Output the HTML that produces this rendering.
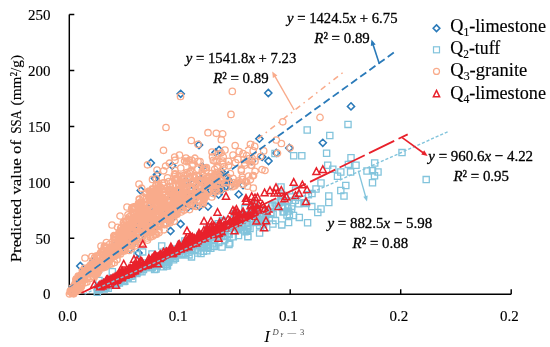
<!DOCTYPE html>
<html><head><meta charset="utf-8"><title>SSA prediction</title>
<style>
html,body{margin:0;padding:0;background:#fff;}
svg{display:block;font-family:'Liberation Serif', 'DejaVu Serif', serif;fill:#000;}
svg text{stroke:#000;stroke-width:0.15px;}
svg text.sup{stroke:none;}
svg text.eq{stroke-width:0.3px;}
</style></head><body>
<svg width="550" height="347" viewBox="0 0 550 347">
<rect width="550" height="347" fill="#fff"/>
<g id="axes"><path d="M69.3 14.5V294.2H511.2" fill="none" stroke="#000" stroke-width="1.45"/><path d="M69.3 294.2h5M69.3 238.3h5M69.3 182.3h5M69.3 126.4h5M69.3 70.4h5M69.3 14.5h5M69.3 294.2v-5M179.8 294.2v-5M290.2 294.2v-5M400.7 294.2v-5M511.2 294.2v-5" fill="none" stroke="#000" stroke-width="1.45"/></g>
<g id="points">
<path d="M117.9 238.6l3.6 3.6l-3.6 3.6l-3.6 -3.6zM221.6 167.8l3.6 3.6l-3.6 3.6l-3.6 -3.6zM117.2 243.1l3.6 3.6l-3.6 3.6l-3.6 -3.6zM201.6 175.9l3.6 3.6l-3.6 3.6l-3.6 -3.6zM134.1 227.4l3.6 3.6l-3.6 3.6l-3.6 -3.6zM165.2 200.9l3.6 3.6l-3.6 3.6l-3.6 -3.6zM134.7 237.7l3.6 3.6l-3.6 3.6l-3.6 -3.6zM138.4 210.1l3.6 3.6l-3.6 3.6l-3.6 -3.6zM219.4 170.4l3.6 3.6l-3.6 3.6l-3.6 -3.6zM214.6 188.1l3.6 3.6l-3.6 3.6l-3.6 -3.6zM113.8 243.3l3.6 3.6l-3.6 3.6l-3.6 -3.6zM185.9 177.2l3.6 3.6l-3.6 3.6l-3.6 -3.6zM107.4 248.2l3.6 3.6l-3.6 3.6l-3.6 -3.6zM133.1 239.7l3.6 3.6l-3.6 3.6l-3.6 -3.6zM93.3 257.5l3.6 3.6l-3.6 3.6l-3.6 -3.6zM175.6 206.7l3.6 3.6l-3.6 3.6l-3.6 -3.6zM186.2 199.9l3.6 3.6l-3.6 3.6l-3.6 -3.6zM189.0 195.6l3.6 3.6l-3.6 3.6l-3.6 -3.6zM193.0 195.7l3.6 3.6l-3.6 3.6l-3.6 -3.6zM145.2 216.3l3.6 3.6l-3.6 3.6l-3.6 -3.6zM114.2 248.8l3.6 3.6l-3.6 3.6l-3.6 -3.6zM72.0 285.8l3.6 3.6l-3.6 3.6l-3.6 -3.6zM150.4 211.8l3.6 3.6l-3.6 3.6l-3.6 -3.6zM219.6 169.5l3.6 3.6l-3.6 3.6l-3.6 -3.6zM151.4 222.2l3.6 3.6l-3.6 3.6l-3.6 -3.6zM171.4 215.2l3.6 3.6l-3.6 3.6l-3.6 -3.6zM216.3 178.9l3.6 3.6l-3.6 3.6l-3.6 -3.6zM206.6 182.7l3.6 3.6l-3.6 3.6l-3.6 -3.6zM188.1 182.1l3.6 3.6l-3.6 3.6l-3.6 -3.6zM168.5 217.6l3.6 3.6l-3.6 3.6l-3.6 -3.6zM123.3 243.0l3.6 3.6l-3.6 3.6l-3.6 -3.6zM189.3 198.2l3.6 3.6l-3.6 3.6l-3.6 -3.6zM147.9 225.8l3.6 3.6l-3.6 3.6l-3.6 -3.6zM183.4 192.0l3.6 3.6l-3.6 3.6l-3.6 -3.6zM121.9 243.1l3.6 3.6l-3.6 3.6l-3.6 -3.6zM221.1 187.0l3.6 3.6l-3.6 3.6l-3.6 -3.6zM111.9 254.2l3.6 3.6l-3.6 3.6l-3.6 -3.6zM195.4 188.8l3.6 3.6l-3.6 3.6l-3.6 -3.6zM211.4 179.8l3.6 3.6l-3.6 3.6l-3.6 -3.6zM109.7 245.7l3.6 3.6l-3.6 3.6l-3.6 -3.6zM207.0 182.3l3.6 3.6l-3.6 3.6l-3.6 -3.6zM175.1 198.4l3.6 3.6l-3.6 3.6l-3.6 -3.6zM169.9 186.3l3.6 3.6l-3.6 3.6l-3.6 -3.6zM126.7 237.8l3.6 3.6l-3.6 3.6l-3.6 -3.6zM137.0 213.1l3.6 3.6l-3.6 3.6l-3.6 -3.6zM123.8 235.0l3.6 3.6l-3.6 3.6l-3.6 -3.6zM150.6 195.5l3.6 3.6l-3.6 3.6l-3.6 -3.6zM175.6 203.0l3.6 3.6l-3.6 3.6l-3.6 -3.6zM186.5 193.8l3.6 3.6l-3.6 3.6l-3.6 -3.6zM183.3 201.3l3.6 3.6l-3.6 3.6l-3.6 -3.6zM139.3 221.6l3.6 3.6l-3.6 3.6l-3.6 -3.6zM138.0 220.9l3.6 3.6l-3.6 3.6l-3.6 -3.6zM191.4 187.1l3.6 3.6l-3.6 3.6l-3.6 -3.6zM228.5 178.0l3.6 3.6l-3.6 3.6l-3.6 -3.6zM121.7 244.7l3.6 3.6l-3.6 3.6l-3.6 -3.6zM147.3 217.5l3.6 3.6l-3.6 3.6l-3.6 -3.6zM129.9 245.1l3.6 3.6l-3.6 3.6l-3.6 -3.6zM228.6 176.5l3.6 3.6l-3.6 3.6l-3.6 -3.6zM78.0 282.4l3.6 3.6l-3.6 3.6l-3.6 -3.6zM211.8 179.9l3.6 3.6l-3.6 3.6l-3.6 -3.6zM192.0 201.7l3.6 3.6l-3.6 3.6l-3.6 -3.6zM137.4 221.3l3.6 3.6l-3.6 3.6l-3.6 -3.6zM179.9 188.6l3.6 3.6l-3.6 3.6l-3.6 -3.6zM142.2 212.1l3.6 3.6l-3.6 3.6l-3.6 -3.6zM174.1 198.4l3.6 3.6l-3.6 3.6l-3.6 -3.6zM148.8 218.4l3.6 3.6l-3.6 3.6l-3.6 -3.6zM216.0 172.1l3.6 3.6l-3.6 3.6l-3.6 -3.6zM152.4 202.9l3.6 3.6l-3.6 3.6l-3.6 -3.6zM198.6 197.4l3.6 3.6l-3.6 3.6l-3.6 -3.6zM166.5 206.1l3.6 3.6l-3.6 3.6l-3.6 -3.6zM142.5 230.7l3.6 3.6l-3.6 3.6l-3.6 -3.6zM226.8 174.9l3.6 3.6l-3.6 3.6l-3.6 -3.6zM117.3 245.2l3.6 3.6l-3.6 3.6l-3.6 -3.6zM214.7 178.7l3.6 3.6l-3.6 3.6l-3.6 -3.6zM230.2 182.3l3.6 3.6l-3.6 3.6l-3.6 -3.6zM204.4 184.8l3.6 3.6l-3.6 3.6l-3.6 -3.6zM170.8 212.9l3.6 3.6l-3.6 3.6l-3.6 -3.6zM172.3 190.6l3.6 3.6l-3.6 3.6l-3.6 -3.6zM218.6 183.5l3.6 3.6l-3.6 3.6l-3.6 -3.6zM149.6 214.1l3.6 3.6l-3.6 3.6l-3.6 -3.6zM200.5 175.3l3.6 3.6l-3.6 3.6l-3.6 -3.6zM193.0 195.7l3.6 3.6l-3.6 3.6l-3.6 -3.6zM205.9 188.9l3.6 3.6l-3.6 3.6l-3.6 -3.6zM150.5 215.1l3.6 3.6l-3.6 3.6l-3.6 -3.6zM176.2 197.7l3.6 3.6l-3.6 3.6l-3.6 -3.6zM97.9 268.6l3.6 3.6l-3.6 3.6l-3.6 -3.6zM93.5 269.8l3.6 3.6l-3.6 3.6l-3.6 -3.6zM101.1 259.9l3.6 3.6l-3.6 3.6l-3.6 -3.6zM187.4 204.2l3.6 3.6l-3.6 3.6l-3.6 -3.6zM140.4 222.8l3.6 3.6l-3.6 3.6l-3.6 -3.6zM214.7 189.4l3.6 3.6l-3.6 3.6l-3.6 -3.6zM95.1 259.0l3.6 3.6l-3.6 3.6l-3.6 -3.6zM113.4 250.2l3.6 3.6l-3.6 3.6l-3.6 -3.6zM202.3 177.5l3.6 3.6l-3.6 3.6l-3.6 -3.6zM148.0 205.0l3.6 3.6l-3.6 3.6l-3.6 -3.6zM121.5 233.0l3.6 3.6l-3.6 3.6l-3.6 -3.6zM194.0 179.1l3.6 3.6l-3.6 3.6l-3.6 -3.6zM123.7 242.0l3.6 3.6l-3.6 3.6l-3.6 -3.6zM228.4 178.3l3.6 3.6l-3.6 3.6l-3.6 -3.6zM129.7 221.5l3.6 3.6l-3.6 3.6l-3.6 -3.6zM205.9 184.7l3.6 3.6l-3.6 3.6l-3.6 -3.6zM154.9 222.6l3.6 3.6l-3.6 3.6l-3.6 -3.6zM220.0 183.4l3.6 3.6l-3.6 3.6l-3.6 -3.6zM132.7 226.5l3.6 3.6l-3.6 3.6l-3.6 -3.6zM218.0 178.2l3.6 3.6l-3.6 3.6l-3.6 -3.6zM133.6 224.4l3.6 3.6l-3.6 3.6l-3.6 -3.6zM151.3 211.5l3.6 3.6l-3.6 3.6l-3.6 -3.6zM173.6 202.4l3.6 3.6l-3.6 3.6l-3.6 -3.6zM163.8 197.0l3.6 3.6l-3.6 3.6l-3.6 -3.6zM178.6 205.2l3.6 3.6l-3.6 3.6l-3.6 -3.6zM182.0 203.4l3.6 3.6l-3.6 3.6l-3.6 -3.6zM128.7 238.0l3.6 3.6l-3.6 3.6l-3.6 -3.6zM74.5 283.8l3.6 3.6l-3.6 3.6l-3.6 -3.6zM185.8 194.6l3.6 3.6l-3.6 3.6l-3.6 -3.6zM169.5 197.3l3.6 3.6l-3.6 3.6l-3.6 -3.6zM164.9 220.1l3.6 3.6l-3.6 3.6l-3.6 -3.6zM156.8 196.8l3.6 3.6l-3.6 3.6l-3.6 -3.6zM218.6 191.0l3.6 3.6l-3.6 3.6l-3.6 -3.6zM132.8 234.3l3.6 3.6l-3.6 3.6l-3.6 -3.6zM215.4 184.4l3.6 3.6l-3.6 3.6l-3.6 -3.6zM112.6 252.0l3.6 3.6l-3.6 3.6l-3.6 -3.6zM181.8 198.3l3.6 3.6l-3.6 3.6l-3.6 -3.6zM221.3 184.6l3.6 3.6l-3.6 3.6l-3.6 -3.6zM110.1 254.5l3.6 3.6l-3.6 3.6l-3.6 -3.6zM192.4 192.8l3.6 3.6l-3.6 3.6l-3.6 -3.6zM129.4 225.2l3.6 3.6l-3.6 3.6l-3.6 -3.6zM90.5 262.9l3.6 3.6l-3.6 3.6l-3.6 -3.6zM149.4 214.4l3.6 3.6l-3.6 3.6l-3.6 -3.6zM182.4 189.1l3.6 3.6l-3.6 3.6l-3.6 -3.6zM130.9 234.8l3.6 3.6l-3.6 3.6l-3.6 -3.6zM180.7 90.2l3.6 3.6l-3.6 3.6l-3.6 -3.6zM268.3 89.4l3.6 3.6l-3.6 3.6l-3.6 -3.6zM351.0 102.8l3.6 3.6l-3.6 3.6l-3.6 -3.6zM322.8 139.2l3.6 3.6l-3.6 3.6l-3.6 -3.6zM289.3 144.4l3.6 3.6l-3.6 3.6l-3.6 -3.6zM276.3 149.3l3.6 3.6l-3.6 3.6l-3.6 -3.6zM262.2 153.3l3.6 3.6l-3.6 3.6l-3.6 -3.6zM259.4 135.1l3.6 3.6l-3.6 3.6l-3.6 -3.6zM252.0 157.4l3.6 3.6l-3.6 3.6l-3.6 -3.6zM243.0 181.4l3.6 3.6l-3.6 3.6l-3.6 -3.6zM80.3 262.4l3.6 3.6l-3.6 3.6l-3.6 -3.6zM180.6 220.4l3.6 3.6l-3.6 3.6l-3.6 -3.6zM170.5 227.4l3.6 3.6l-3.6 3.6l-3.6 -3.6zM208.0 203.0l3.6 3.6l-3.6 3.6l-3.6 -3.6zM199.5 203.0l3.6 3.6l-3.6 3.6l-3.6 -3.6zM140.0 201.4l3.6 3.6l-3.6 3.6l-3.6 -3.6zM138.5 249.4l3.6 3.6l-3.6 3.6l-3.6 -3.6zM150.8 159.4l3.6 3.6l-3.6 3.6l-3.6 -3.6zM199.0 141.4l3.6 3.6l-3.6 3.6l-3.6 -3.6zM215.6 148.8l3.6 3.6l-3.6 3.6l-3.6 -3.6zM202.5 163.4l3.6 3.6l-3.6 3.6l-3.6 -3.6zM268.5 157.4l3.6 3.6l-3.6 3.6l-3.6 -3.6zM172.2 162.1l3.6 3.6l-3.6 3.6l-3.6 -3.6zM157.0 171.0l3.6 3.6l-3.6 3.6l-3.6 -3.6zM219.0 146.4l3.6 3.6l-3.6 3.6l-3.6 -3.6zM238.7 190.8l3.6 3.6l-3.6 3.6l-3.6 -3.6zM227.0 179.1l3.6 3.6l-3.6 3.6l-3.6 -3.6zM225.6 183.4l3.6 3.6l-3.6 3.6l-3.6 -3.6zM140.8 186.9l3.6 3.6l-3.6 3.6l-3.6 -3.6zM155.0 174.9l3.6 3.6l-3.6 3.6l-3.6 -3.6z" fill="none" stroke="#2a7ab9" stroke-width="1.5"/>
<path d="M112.2 278.1h6.2v6.2h-6.2zM252.2 212.9h6.2v6.2h-6.2zM106.2 281.5h6.2v6.2h-6.2zM157.6 261.2h6.2v6.2h-6.2zM303.1 200.4h6.2v6.2h-6.2zM279.0 199.0h6.2v6.2h-6.2zM181.8 237.8h6.2v6.2h-6.2zM226.7 240.0h6.2v6.2h-6.2zM165.8 258.3h6.2v6.2h-6.2zM256.5 216.2h6.2v6.2h-6.2zM153.3 261.5h6.2v6.2h-6.2zM132.6 268.1h6.2v6.2h-6.2zM121.0 272.4h6.2v6.2h-6.2zM212.7 231.7h6.2v6.2h-6.2zM198.8 238.8h6.2v6.2h-6.2zM268.8 202.8h6.2v6.2h-6.2zM121.4 271.1h6.2v6.2h-6.2zM247.4 215.8h6.2v6.2h-6.2zM280.0 208.8h6.2v6.2h-6.2zM235.7 219.8h6.2v6.2h-6.2zM115.4 277.3h6.2v6.2h-6.2zM122.7 269.1h6.2v6.2h-6.2zM110.3 279.2h6.2v6.2h-6.2zM156.6 258.4h6.2v6.2h-6.2zM238.1 213.0h6.2v6.2h-6.2zM121.1 270.6h6.2v6.2h-6.2zM178.3 250.9h6.2v6.2h-6.2zM102.1 281.8h6.2v6.2h-6.2zM222.0 232.6h6.2v6.2h-6.2zM112.4 277.8h6.2v6.2h-6.2zM245.0 223.8h6.2v6.2h-6.2zM209.3 233.2h6.2v6.2h-6.2zM129.7 266.8h6.2v6.2h-6.2zM226.0 227.3h6.2v6.2h-6.2zM159.5 256.3h6.2v6.2h-6.2zM192.4 246.0h6.2v6.2h-6.2zM198.6 237.6h6.2v6.2h-6.2zM144.9 262.8h6.2v6.2h-6.2zM172.3 255.2h6.2v6.2h-6.2zM243.6 228.2h6.2v6.2h-6.2zM259.9 218.6h6.2v6.2h-6.2zM256.5 222.2h6.2v6.2h-6.2zM200.8 241.5h6.2v6.2h-6.2zM261.7 218.0h6.2v6.2h-6.2zM120.2 277.0h6.2v6.2h-6.2zM295.7 200.6h6.2v6.2h-6.2zM102.3 283.3h6.2v6.2h-6.2zM267.9 210.3h6.2v6.2h-6.2zM244.7 233.6h6.2v6.2h-6.2zM167.2 254.2h6.2v6.2h-6.2zM244.5 217.7h6.2v6.2h-6.2zM284.4 198.0h6.2v6.2h-6.2zM124.7 273.1h6.2v6.2h-6.2zM216.4 233.6h6.2v6.2h-6.2zM94.6 284.9h6.2v6.2h-6.2zM219.3 217.5h6.2v6.2h-6.2zM105.4 282.3h6.2v6.2h-6.2zM219.9 219.7h6.2v6.2h-6.2zM98.9 285.1h6.2v6.2h-6.2zM169.7 253.6h6.2v6.2h-6.2zM260.4 221.5h6.2v6.2h-6.2zM151.5 266.4h6.2v6.2h-6.2zM288.7 203.3h6.2v6.2h-6.2zM182.5 244.6h6.2v6.2h-6.2zM128.0 268.5h6.2v6.2h-6.2zM277.8 196.8h6.2v6.2h-6.2zM123.0 274.0h6.2v6.2h-6.2zM205.7 224.8h6.2v6.2h-6.2zM279.7 204.6h6.2v6.2h-6.2zM279.1 204.1h6.2v6.2h-6.2zM198.4 243.4h6.2v6.2h-6.2zM133.7 268.1h6.2v6.2h-6.2zM188.0 245.3h6.2v6.2h-6.2zM148.8 259.8h6.2v6.2h-6.2zM153.0 258.8h6.2v6.2h-6.2zM153.6 253.7h6.2v6.2h-6.2zM131.8 270.3h6.2v6.2h-6.2zM101.1 286.0h6.2v6.2h-6.2zM236.4 224.3h6.2v6.2h-6.2zM96.2 286.4h6.2v6.2h-6.2zM201.7 233.0h6.2v6.2h-6.2zM162.9 261.2h6.2v6.2h-6.2zM216.5 227.1h6.2v6.2h-6.2zM203.1 242.3h6.2v6.2h-6.2zM184.0 247.1h6.2v6.2h-6.2zM241.8 213.2h6.2v6.2h-6.2zM201.5 244.1h6.2v6.2h-6.2zM267.7 209.4h6.2v6.2h-6.2zM204.0 238.6h6.2v6.2h-6.2zM262.5 215.1h6.2v6.2h-6.2zM259.8 212.6h6.2v6.2h-6.2zM227.6 224.4h6.2v6.2h-6.2zM155.8 260.8h6.2v6.2h-6.2zM185.4 244.0h6.2v6.2h-6.2zM108.7 280.4h6.2v6.2h-6.2zM231.3 220.6h6.2v6.2h-6.2zM215.7 222.7h6.2v6.2h-6.2zM250.2 211.4h6.2v6.2h-6.2zM109.7 278.9h6.2v6.2h-6.2zM118.0 276.2h6.2v6.2h-6.2zM215.7 239.3h6.2v6.2h-6.2zM232.7 212.3h6.2v6.2h-6.2zM107.7 281.0h6.2v6.2h-6.2zM99.6 281.1h6.2v6.2h-6.2zM154.9 255.7h6.2v6.2h-6.2zM157.7 256.4h6.2v6.2h-6.2zM103.6 279.0h6.2v6.2h-6.2zM112.2 274.9h6.2v6.2h-6.2zM132.2 270.2h6.2v6.2h-6.2zM96.4 285.9h6.2v6.2h-6.2zM121.6 274.3h6.2v6.2h-6.2zM98.6 283.5h6.2v6.2h-6.2zM163.4 263.0h6.2v6.2h-6.2zM236.0 222.2h6.2v6.2h-6.2zM218.7 225.3h6.2v6.2h-6.2zM207.7 245.1h6.2v6.2h-6.2zM181.9 250.2h6.2v6.2h-6.2zM129.1 270.2h6.2v6.2h-6.2zM102.9 284.7h6.2v6.2h-6.2zM128.7 271.7h6.2v6.2h-6.2zM281.0 209.0h6.2v6.2h-6.2zM249.3 219.2h6.2v6.2h-6.2zM201.1 233.0h6.2v6.2h-6.2zM209.4 240.6h6.2v6.2h-6.2zM235.3 224.8h6.2v6.2h-6.2zM251.0 208.2h6.2v6.2h-6.2zM139.3 264.3h6.2v6.2h-6.2zM246.9 225.4h6.2v6.2h-6.2zM216.1 229.8h6.2v6.2h-6.2zM146.1 263.7h6.2v6.2h-6.2zM147.9 264.7h6.2v6.2h-6.2zM126.1 272.8h6.2v6.2h-6.2zM196.8 232.3h6.2v6.2h-6.2zM288.5 205.9h6.2v6.2h-6.2zM244.3 226.3h6.2v6.2h-6.2zM125.1 274.9h6.2v6.2h-6.2zM116.3 280.0h6.2v6.2h-6.2zM146.8 264.3h6.2v6.2h-6.2zM124.7 274.9h6.2v6.2h-6.2zM120.6 278.3h6.2v6.2h-6.2zM232.6 222.8h6.2v6.2h-6.2zM153.0 266.0h6.2v6.2h-6.2zM200.3 248.2h6.2v6.2h-6.2zM153.1 262.9h6.2v6.2h-6.2zM296.2 214.3h6.2v6.2h-6.2zM205.3 241.6h6.2v6.2h-6.2zM120.1 273.1h6.2v6.2h-6.2zM241.8 228.7h6.2v6.2h-6.2zM148.3 263.6h6.2v6.2h-6.2zM179.5 250.4h6.2v6.2h-6.2zM147.9 263.3h6.2v6.2h-6.2zM186.0 251.8h6.2v6.2h-6.2zM151.7 262.8h6.2v6.2h-6.2zM154.2 257.4h6.2v6.2h-6.2zM123.5 274.8h6.2v6.2h-6.2zM285.3 208.0h6.2v6.2h-6.2zM132.8 267.4h6.2v6.2h-6.2zM147.0 261.7h6.2v6.2h-6.2zM171.0 250.7h6.2v6.2h-6.2zM116.0 275.7h6.2v6.2h-6.2zM136.9 268.6h6.2v6.2h-6.2zM170.5 256.6h6.2v6.2h-6.2zM203.7 247.7h6.2v6.2h-6.2zM194.8 247.6h6.2v6.2h-6.2zM163.2 259.6h6.2v6.2h-6.2zM221.7 236.7h6.2v6.2h-6.2zM235.4 232.5h6.2v6.2h-6.2zM143.7 263.4h6.2v6.2h-6.2zM138.9 268.7h6.2v6.2h-6.2zM211.7 236.1h6.2v6.2h-6.2zM171.2 251.8h6.2v6.2h-6.2zM252.7 212.1h6.2v6.2h-6.2zM95.6 285.4h6.2v6.2h-6.2zM195.7 239.9h6.2v6.2h-6.2zM159.4 252.8h6.2v6.2h-6.2zM133.8 270.4h6.2v6.2h-6.2zM260.7 212.2h6.2v6.2h-6.2zM134.6 269.0h6.2v6.2h-6.2zM244.1 222.2h6.2v6.2h-6.2zM257.7 219.3h6.2v6.2h-6.2zM288.0 193.9h6.2v6.2h-6.2zM115.7 276.9h6.2v6.2h-6.2zM123.2 269.8h6.2v6.2h-6.2zM109.6 275.9h6.2v6.2h-6.2zM154.1 252.8h6.2v6.2h-6.2zM269.8 221.0h6.2v6.2h-6.2zM215.2 220.7h6.2v6.2h-6.2zM122.9 275.0h6.2v6.2h-6.2zM113.7 280.8h6.2v6.2h-6.2zM236.2 219.8h6.2v6.2h-6.2zM211.3 243.5h6.2v6.2h-6.2zM94.2 289.1h6.2v6.2h-6.2zM204.4 242.5h6.2v6.2h-6.2zM129.6 275.7h6.2v6.2h-6.2zM149.1 264.2h6.2v6.2h-6.2zM112.8 276.9h6.2v6.2h-6.2zM300.9 199.6h6.2v6.2h-6.2zM179.8 246.4h6.2v6.2h-6.2zM210.1 226.8h6.2v6.2h-6.2zM132.2 266.2h6.2v6.2h-6.2zM164.4 262.6h6.2v6.2h-6.2zM215.9 228.9h6.2v6.2h-6.2zM235.6 223.4h6.2v6.2h-6.2zM269.8 202.0h6.2v6.2h-6.2zM140.4 266.5h6.2v6.2h-6.2zM138.9 266.1h6.2v6.2h-6.2zM169.7 251.3h6.2v6.2h-6.2zM151.8 256.7h6.2v6.2h-6.2zM250.5 205.1h6.2v6.2h-6.2zM163.7 252.7h6.2v6.2h-6.2zM164.1 256.6h6.2v6.2h-6.2zM188.4 253.8h6.2v6.2h-6.2zM200.0 244.9h6.2v6.2h-6.2zM160.3 263.6h6.2v6.2h-6.2zM95.4 286.9h6.2v6.2h-6.2zM233.3 224.1h6.2v6.2h-6.2zM115.4 274.4h6.2v6.2h-6.2zM257.7 213.9h6.2v6.2h-6.2zM140.3 259.9h6.2v6.2h-6.2zM141.9 264.5h6.2v6.2h-6.2zM194.6 249.9h6.2v6.2h-6.2zM270.0 211.1h6.2v6.2h-6.2zM165.4 259.1h6.2v6.2h-6.2zM184.2 244.7h6.2v6.2h-6.2zM171.9 246.0h6.2v6.2h-6.2zM114.9 276.5h6.2v6.2h-6.2zM148.1 261.4h6.2v6.2h-6.2zM272.4 217.5h6.2v6.2h-6.2zM278.7 221.8h6.2v6.2h-6.2zM141.8 263.2h6.2v6.2h-6.2zM273.3 203.5h6.2v6.2h-6.2zM96.8 285.4h6.2v6.2h-6.2zM230.0 223.7h6.2v6.2h-6.2zM98.6 282.9h6.2v6.2h-6.2zM174.0 251.6h6.2v6.2h-6.2zM171.5 253.7h6.2v6.2h-6.2zM175.7 252.0h6.2v6.2h-6.2zM279.2 192.2h6.2v6.2h-6.2zM160.1 257.0h6.2v6.2h-6.2zM97.2 282.8h6.2v6.2h-6.2zM114.6 279.4h6.2v6.2h-6.2zM236.1 215.8h6.2v6.2h-6.2zM118.0 275.6h6.2v6.2h-6.2zM104.8 281.3h6.2v6.2h-6.2zM130.6 269.0h6.2v6.2h-6.2zM292.5 186.9h6.2v6.2h-6.2zM177.5 241.3h6.2v6.2h-6.2zM121.7 278.2h6.2v6.2h-6.2zM218.1 233.1h6.2v6.2h-6.2zM164.9 256.3h6.2v6.2h-6.2zM197.9 250.4h6.2v6.2h-6.2zM305.3 191.6h6.2v6.2h-6.2zM226.1 231.4h6.2v6.2h-6.2zM194.5 242.2h6.2v6.2h-6.2zM308.7 203.5h6.2v6.2h-6.2zM189.0 246.9h6.2v6.2h-6.2zM179.0 250.3h6.2v6.2h-6.2zM256.9 212.1h6.2v6.2h-6.2zM284.6 204.5h6.2v6.2h-6.2zM230.2 233.6h6.2v6.2h-6.2zM162.5 248.1h6.2v6.2h-6.2zM169.6 252.7h6.2v6.2h-6.2zM95.5 285.6h6.2v6.2h-6.2zM138.9 266.0h6.2v6.2h-6.2zM241.7 205.4h6.2v6.2h-6.2zM185.8 249.2h6.2v6.2h-6.2zM258.2 206.3h6.2v6.2h-6.2zM220.4 229.1h6.2v6.2h-6.2zM200.4 236.6h6.2v6.2h-6.2zM247.6 204.7h6.2v6.2h-6.2zM187.5 242.9h6.2v6.2h-6.2zM219.8 218.4h6.2v6.2h-6.2zM186.0 241.1h6.2v6.2h-6.2zM160.2 256.2h6.2v6.2h-6.2zM239.3 222.1h6.2v6.2h-6.2zM107.2 281.1h6.2v6.2h-6.2zM292.2 197.1h6.2v6.2h-6.2zM285.5 219.5h6.2v6.2h-6.2zM252.7 219.4h6.2v6.2h-6.2zM181.8 241.8h6.2v6.2h-6.2zM178.5 246.3h6.2v6.2h-6.2zM169.6 250.4h6.2v6.2h-6.2zM180.2 247.6h6.2v6.2h-6.2zM135.5 266.6h6.2v6.2h-6.2zM246.3 212.1h6.2v6.2h-6.2zM263.6 224.5h6.2v6.2h-6.2zM188.1 245.2h6.2v6.2h-6.2zM257.4 211.2h6.2v6.2h-6.2zM148.7 261.7h6.2v6.2h-6.2zM258.8 211.6h6.2v6.2h-6.2zM290.4 212.4h6.2v6.2h-6.2zM220.5 233.4h6.2v6.2h-6.2zM286.3 211.5h6.2v6.2h-6.2zM231.5 210.6h6.2v6.2h-6.2zM225.0 230.5h6.2v6.2h-6.2zM182.8 251.9h6.2v6.2h-6.2zM105.1 285.1h6.2v6.2h-6.2zM117.4 276.5h6.2v6.2h-6.2zM252.2 201.9h6.2v6.2h-6.2zM128.0 273.1h6.2v6.2h-6.2zM323.5 150.2h6.2v6.2h-6.2zM347.9 154.6h6.2v6.2h-6.2zM398.9 149.5h6.2v6.2h-6.2zM423.1 176.5h6.2v6.2h-6.2zM371.6 159.9h6.2v6.2h-6.2zM352.9 162.2h6.2v6.2h-6.2zM324.6 162.2h6.2v6.2h-6.2zM363.9 167.9h6.2v6.2h-6.2zM369.4 167.7h6.2v6.2h-6.2zM374.9 168.9h6.2v6.2h-6.2zM337.7 168.9h6.2v6.2h-6.2zM347.5 168.9h6.2v6.2h-6.2zM334.4 173.2h6.2v6.2h-6.2zM369.4 179.7h6.2v6.2h-6.2zM342.7 182.4h6.2v6.2h-6.2zM337.7 187.4h6.2v6.2h-6.2zM340.9 192.9h6.2v6.2h-6.2zM325.7 192.9h6.2v6.2h-6.2zM325.7 199.4h6.2v6.2h-6.2zM317.9 179.9h6.2v6.2h-6.2zM317.9 205.9h6.2v6.2h-6.2zM290.6 152.7h6.2v6.2h-6.2zM298.7 152.7h6.2v6.2h-6.2zM314.7 209.4h6.2v6.2h-6.2zM304.5 219.6h6.2v6.2h-6.2zM283.9 211.9h6.2v6.2h-6.2zM256.5 229.9h6.2v6.2h-6.2zM225.9 241.4h6.2v6.2h-6.2zM209.9 242.9h6.2v6.2h-6.2zM308.9 190.5h6.2v6.2h-6.2zM312.9 185.9h6.2v6.2h-6.2zM344.9 121.3h6.2v6.2h-6.2zM304.1 126.9h6.2v6.2h-6.2zM326.7 132.4h6.2v6.2h-6.2zM271.9 150.4h6.2v6.2h-6.2zM345.3 161.3h6.2v6.2h-6.2zM271.9 199.9h6.2v6.2h-6.2zM277.9 183.9h6.2v6.2h-6.2zM139.6 248.8h6.2v6.2h-6.2zM133.9 251.6h6.2v6.2h-6.2zM148.9 250.9h6.2v6.2h-6.2zM158.6 242.9h6.2v6.2h-6.2zM109.2 268.7h6.2v6.2h-6.2zM95.9 277.3h6.2v6.2h-6.2zM244.9 233.5h6.2v6.2h-6.2zM239.9 226.9h6.2v6.2h-6.2zM204.9 243.9h6.2v6.2h-6.2zM218.9 243.9h6.2v6.2h-6.2zM191.9 246.9h6.2v6.2h-6.2zM329.7 166.2h6.2v6.2h-6.2zM371.4 172.7h6.2v6.2h-6.2z" fill="none" stroke="#82c4dc" stroke-width="1.3"/>
<path d="M155.3 213.0a3.2 3.2 0 1 0 6.4 0a3.2 3.2 0 1 0 -6.4 0zM196.2 201.6a3.2 3.2 0 1 0 6.4 0a3.2 3.2 0 1 0 -6.4 0zM174.3 200.7a3.2 3.2 0 1 0 6.4 0a3.2 3.2 0 1 0 -6.4 0zM107.6 255.3a3.2 3.2 0 1 0 6.4 0a3.2 3.2 0 1 0 -6.4 0zM118.5 238.2a3.2 3.2 0 1 0 6.4 0a3.2 3.2 0 1 0 -6.4 0zM191.5 198.5a3.2 3.2 0 1 0 6.4 0a3.2 3.2 0 1 0 -6.4 0zM67.5 290.5a3.2 3.2 0 1 0 6.4 0a3.2 3.2 0 1 0 -6.4 0zM181.7 205.6a3.2 3.2 0 1 0 6.4 0a3.2 3.2 0 1 0 -6.4 0zM177.6 207.2a3.2 3.2 0 1 0 6.4 0a3.2 3.2 0 1 0 -6.4 0zM138.5 235.9a3.2 3.2 0 1 0 6.4 0a3.2 3.2 0 1 0 -6.4 0zM118.9 242.0a3.2 3.2 0 1 0 6.4 0a3.2 3.2 0 1 0 -6.4 0zM115.4 253.1a3.2 3.2 0 1 0 6.4 0a3.2 3.2 0 1 0 -6.4 0zM111.9 253.1a3.2 3.2 0 1 0 6.4 0a3.2 3.2 0 1 0 -6.4 0zM136.0 222.0a3.2 3.2 0 1 0 6.4 0a3.2 3.2 0 1 0 -6.4 0zM142.3 213.2a3.2 3.2 0 1 0 6.4 0a3.2 3.2 0 1 0 -6.4 0zM147.5 218.4a3.2 3.2 0 1 0 6.4 0a3.2 3.2 0 1 0 -6.4 0zM239.6 184.2a3.2 3.2 0 1 0 6.4 0a3.2 3.2 0 1 0 -6.4 0zM176.9 198.4a3.2 3.2 0 1 0 6.4 0a3.2 3.2 0 1 0 -6.4 0zM154.9 185.3a3.2 3.2 0 1 0 6.4 0a3.2 3.2 0 1 0 -6.4 0zM230.4 182.7a3.2 3.2 0 1 0 6.4 0a3.2 3.2 0 1 0 -6.4 0zM106.0 261.7a3.2 3.2 0 1 0 6.4 0a3.2 3.2 0 1 0 -6.4 0zM96.0 254.8a3.2 3.2 0 1 0 6.4 0a3.2 3.2 0 1 0 -6.4 0zM153.9 189.1a3.2 3.2 0 1 0 6.4 0a3.2 3.2 0 1 0 -6.4 0zM74.9 279.9a3.2 3.2 0 1 0 6.4 0a3.2 3.2 0 1 0 -6.4 0zM73.5 288.5a3.2 3.2 0 1 0 6.4 0a3.2 3.2 0 1 0 -6.4 0zM143.4 225.0a3.2 3.2 0 1 0 6.4 0a3.2 3.2 0 1 0 -6.4 0zM138.3 222.5a3.2 3.2 0 1 0 6.4 0a3.2 3.2 0 1 0 -6.4 0zM200.4 199.5a3.2 3.2 0 1 0 6.4 0a3.2 3.2 0 1 0 -6.4 0zM155.7 192.2a3.2 3.2 0 1 0 6.4 0a3.2 3.2 0 1 0 -6.4 0zM143.3 198.2a3.2 3.2 0 1 0 6.4 0a3.2 3.2 0 1 0 -6.4 0zM141.5 210.0a3.2 3.2 0 1 0 6.4 0a3.2 3.2 0 1 0 -6.4 0zM110.9 248.8a3.2 3.2 0 1 0 6.4 0a3.2 3.2 0 1 0 -6.4 0zM69.1 293.4a3.2 3.2 0 1 0 6.4 0a3.2 3.2 0 1 0 -6.4 0zM102.2 262.7a3.2 3.2 0 1 0 6.4 0a3.2 3.2 0 1 0 -6.4 0zM163.1 211.4a3.2 3.2 0 1 0 6.4 0a3.2 3.2 0 1 0 -6.4 0zM103.6 251.1a3.2 3.2 0 1 0 6.4 0a3.2 3.2 0 1 0 -6.4 0zM127.6 227.4a3.2 3.2 0 1 0 6.4 0a3.2 3.2 0 1 0 -6.4 0zM67.1 290.8a3.2 3.2 0 1 0 6.4 0a3.2 3.2 0 1 0 -6.4 0zM183.3 183.5a3.2 3.2 0 1 0 6.4 0a3.2 3.2 0 1 0 -6.4 0zM94.8 264.6a3.2 3.2 0 1 0 6.4 0a3.2 3.2 0 1 0 -6.4 0zM113.8 235.2a3.2 3.2 0 1 0 6.4 0a3.2 3.2 0 1 0 -6.4 0zM192.8 206.4a3.2 3.2 0 1 0 6.4 0a3.2 3.2 0 1 0 -6.4 0zM142.9 193.8a3.2 3.2 0 1 0 6.4 0a3.2 3.2 0 1 0 -6.4 0zM186.4 204.6a3.2 3.2 0 1 0 6.4 0a3.2 3.2 0 1 0 -6.4 0zM156.9 206.5a3.2 3.2 0 1 0 6.4 0a3.2 3.2 0 1 0 -6.4 0zM169.5 206.2a3.2 3.2 0 1 0 6.4 0a3.2 3.2 0 1 0 -6.4 0zM82.8 272.2a3.2 3.2 0 1 0 6.4 0a3.2 3.2 0 1 0 -6.4 0zM146.2 229.9a3.2 3.2 0 1 0 6.4 0a3.2 3.2 0 1 0 -6.4 0zM142.7 214.6a3.2 3.2 0 1 0 6.4 0a3.2 3.2 0 1 0 -6.4 0zM191.0 175.6a3.2 3.2 0 1 0 6.4 0a3.2 3.2 0 1 0 -6.4 0zM126.6 239.4a3.2 3.2 0 1 0 6.4 0a3.2 3.2 0 1 0 -6.4 0zM152.3 234.2a3.2 3.2 0 1 0 6.4 0a3.2 3.2 0 1 0 -6.4 0zM77.4 283.9a3.2 3.2 0 1 0 6.4 0a3.2 3.2 0 1 0 -6.4 0zM129.7 238.8a3.2 3.2 0 1 0 6.4 0a3.2 3.2 0 1 0 -6.4 0zM121.7 249.2a3.2 3.2 0 1 0 6.4 0a3.2 3.2 0 1 0 -6.4 0zM94.0 256.1a3.2 3.2 0 1 0 6.4 0a3.2 3.2 0 1 0 -6.4 0zM180.9 179.3a3.2 3.2 0 1 0 6.4 0a3.2 3.2 0 1 0 -6.4 0zM128.8 219.3a3.2 3.2 0 1 0 6.4 0a3.2 3.2 0 1 0 -6.4 0zM222.2 183.2a3.2 3.2 0 1 0 6.4 0a3.2 3.2 0 1 0 -6.4 0zM151.4 200.0a3.2 3.2 0 1 0 6.4 0a3.2 3.2 0 1 0 -6.4 0zM153.0 198.8a3.2 3.2 0 1 0 6.4 0a3.2 3.2 0 1 0 -6.4 0zM156.7 202.7a3.2 3.2 0 1 0 6.4 0a3.2 3.2 0 1 0 -6.4 0zM161.2 205.8a3.2 3.2 0 1 0 6.4 0a3.2 3.2 0 1 0 -6.4 0zM94.1 270.1a3.2 3.2 0 1 0 6.4 0a3.2 3.2 0 1 0 -6.4 0zM135.5 224.1a3.2 3.2 0 1 0 6.4 0a3.2 3.2 0 1 0 -6.4 0zM109.7 247.5a3.2 3.2 0 1 0 6.4 0a3.2 3.2 0 1 0 -6.4 0zM131.4 217.0a3.2 3.2 0 1 0 6.4 0a3.2 3.2 0 1 0 -6.4 0zM83.7 282.1a3.2 3.2 0 1 0 6.4 0a3.2 3.2 0 1 0 -6.4 0zM216.3 182.9a3.2 3.2 0 1 0 6.4 0a3.2 3.2 0 1 0 -6.4 0zM106.0 251.3a3.2 3.2 0 1 0 6.4 0a3.2 3.2 0 1 0 -6.4 0zM160.7 198.9a3.2 3.2 0 1 0 6.4 0a3.2 3.2 0 1 0 -6.4 0zM118.5 230.2a3.2 3.2 0 1 0 6.4 0a3.2 3.2 0 1 0 -6.4 0zM191.6 178.0a3.2 3.2 0 1 0 6.4 0a3.2 3.2 0 1 0 -6.4 0zM159.6 201.8a3.2 3.2 0 1 0 6.4 0a3.2 3.2 0 1 0 -6.4 0zM90.3 267.4a3.2 3.2 0 1 0 6.4 0a3.2 3.2 0 1 0 -6.4 0zM186.1 201.4a3.2 3.2 0 1 0 6.4 0a3.2 3.2 0 1 0 -6.4 0zM207.7 179.8a3.2 3.2 0 1 0 6.4 0a3.2 3.2 0 1 0 -6.4 0zM197.6 191.9a3.2 3.2 0 1 0 6.4 0a3.2 3.2 0 1 0 -6.4 0zM149.2 218.4a3.2 3.2 0 1 0 6.4 0a3.2 3.2 0 1 0 -6.4 0zM93.0 269.2a3.2 3.2 0 1 0 6.4 0a3.2 3.2 0 1 0 -6.4 0zM102.2 267.1a3.2 3.2 0 1 0 6.4 0a3.2 3.2 0 1 0 -6.4 0zM202.9 195.8a3.2 3.2 0 1 0 6.4 0a3.2 3.2 0 1 0 -6.4 0zM147.3 237.1a3.2 3.2 0 1 0 6.4 0a3.2 3.2 0 1 0 -6.4 0zM100.0 252.1a3.2 3.2 0 1 0 6.4 0a3.2 3.2 0 1 0 -6.4 0zM193.5 191.3a3.2 3.2 0 1 0 6.4 0a3.2 3.2 0 1 0 -6.4 0zM157.1 220.3a3.2 3.2 0 1 0 6.4 0a3.2 3.2 0 1 0 -6.4 0zM149.2 219.4a3.2 3.2 0 1 0 6.4 0a3.2 3.2 0 1 0 -6.4 0zM128.4 231.2a3.2 3.2 0 1 0 6.4 0a3.2 3.2 0 1 0 -6.4 0zM132.3 208.3a3.2 3.2 0 1 0 6.4 0a3.2 3.2 0 1 0 -6.4 0zM109.7 254.1a3.2 3.2 0 1 0 6.4 0a3.2 3.2 0 1 0 -6.4 0zM73.9 279.6a3.2 3.2 0 1 0 6.4 0a3.2 3.2 0 1 0 -6.4 0zM192.0 191.2a3.2 3.2 0 1 0 6.4 0a3.2 3.2 0 1 0 -6.4 0zM138.5 243.0a3.2 3.2 0 1 0 6.4 0a3.2 3.2 0 1 0 -6.4 0zM146.8 232.8a3.2 3.2 0 1 0 6.4 0a3.2 3.2 0 1 0 -6.4 0zM121.6 230.3a3.2 3.2 0 1 0 6.4 0a3.2 3.2 0 1 0 -6.4 0zM170.8 204.2a3.2 3.2 0 1 0 6.4 0a3.2 3.2 0 1 0 -6.4 0zM71.7 287.9a3.2 3.2 0 1 0 6.4 0a3.2 3.2 0 1 0 -6.4 0zM127.9 215.1a3.2 3.2 0 1 0 6.4 0a3.2 3.2 0 1 0 -6.4 0zM72.6 283.6a3.2 3.2 0 1 0 6.4 0a3.2 3.2 0 1 0 -6.4 0zM88.6 266.8a3.2 3.2 0 1 0 6.4 0a3.2 3.2 0 1 0 -6.4 0zM216.0 175.3a3.2 3.2 0 1 0 6.4 0a3.2 3.2 0 1 0 -6.4 0zM159.0 188.9a3.2 3.2 0 1 0 6.4 0a3.2 3.2 0 1 0 -6.4 0zM134.2 240.4a3.2 3.2 0 1 0 6.4 0a3.2 3.2 0 1 0 -6.4 0zM144.4 220.7a3.2 3.2 0 1 0 6.4 0a3.2 3.2 0 1 0 -6.4 0zM191.3 198.7a3.2 3.2 0 1 0 6.4 0a3.2 3.2 0 1 0 -6.4 0zM124.5 224.9a3.2 3.2 0 1 0 6.4 0a3.2 3.2 0 1 0 -6.4 0zM151.4 222.1a3.2 3.2 0 1 0 6.4 0a3.2 3.2 0 1 0 -6.4 0zM162.1 206.8a3.2 3.2 0 1 0 6.4 0a3.2 3.2 0 1 0 -6.4 0zM125.9 250.5a3.2 3.2 0 1 0 6.4 0a3.2 3.2 0 1 0 -6.4 0zM143.9 205.4a3.2 3.2 0 1 0 6.4 0a3.2 3.2 0 1 0 -6.4 0zM172.8 195.5a3.2 3.2 0 1 0 6.4 0a3.2 3.2 0 1 0 -6.4 0zM198.7 187.5a3.2 3.2 0 1 0 6.4 0a3.2 3.2 0 1 0 -6.4 0zM94.2 273.6a3.2 3.2 0 1 0 6.4 0a3.2 3.2 0 1 0 -6.4 0zM204.4 177.6a3.2 3.2 0 1 0 6.4 0a3.2 3.2 0 1 0 -6.4 0zM67.5 290.8a3.2 3.2 0 1 0 6.4 0a3.2 3.2 0 1 0 -6.4 0zM171.0 221.3a3.2 3.2 0 1 0 6.4 0a3.2 3.2 0 1 0 -6.4 0zM179.9 194.3a3.2 3.2 0 1 0 6.4 0a3.2 3.2 0 1 0 -6.4 0zM91.3 257.7a3.2 3.2 0 1 0 6.4 0a3.2 3.2 0 1 0 -6.4 0zM133.2 213.6a3.2 3.2 0 1 0 6.4 0a3.2 3.2 0 1 0 -6.4 0zM180.7 195.6a3.2 3.2 0 1 0 6.4 0a3.2 3.2 0 1 0 -6.4 0zM69.6 292.2a3.2 3.2 0 1 0 6.4 0a3.2 3.2 0 1 0 -6.4 0zM155.6 214.0a3.2 3.2 0 1 0 6.4 0a3.2 3.2 0 1 0 -6.4 0zM177.0 188.7a3.2 3.2 0 1 0 6.4 0a3.2 3.2 0 1 0 -6.4 0zM143.2 225.2a3.2 3.2 0 1 0 6.4 0a3.2 3.2 0 1 0 -6.4 0zM167.4 220.9a3.2 3.2 0 1 0 6.4 0a3.2 3.2 0 1 0 -6.4 0zM107.8 257.6a3.2 3.2 0 1 0 6.4 0a3.2 3.2 0 1 0 -6.4 0zM103.2 262.9a3.2 3.2 0 1 0 6.4 0a3.2 3.2 0 1 0 -6.4 0zM126.9 243.4a3.2 3.2 0 1 0 6.4 0a3.2 3.2 0 1 0 -6.4 0zM99.8 258.7a3.2 3.2 0 1 0 6.4 0a3.2 3.2 0 1 0 -6.4 0zM124.8 214.8a3.2 3.2 0 1 0 6.4 0a3.2 3.2 0 1 0 -6.4 0zM208.7 173.4a3.2 3.2 0 1 0 6.4 0a3.2 3.2 0 1 0 -6.4 0zM149.6 191.5a3.2 3.2 0 1 0 6.4 0a3.2 3.2 0 1 0 -6.4 0zM124.0 229.8a3.2 3.2 0 1 0 6.4 0a3.2 3.2 0 1 0 -6.4 0zM114.4 254.8a3.2 3.2 0 1 0 6.4 0a3.2 3.2 0 1 0 -6.4 0zM210.0 191.4a3.2 3.2 0 1 0 6.4 0a3.2 3.2 0 1 0 -6.4 0zM136.0 241.7a3.2 3.2 0 1 0 6.4 0a3.2 3.2 0 1 0 -6.4 0zM223.3 177.8a3.2 3.2 0 1 0 6.4 0a3.2 3.2 0 1 0 -6.4 0zM143.5 217.4a3.2 3.2 0 1 0 6.4 0a3.2 3.2 0 1 0 -6.4 0zM144.1 230.1a3.2 3.2 0 1 0 6.4 0a3.2 3.2 0 1 0 -6.4 0zM196.0 176.0a3.2 3.2 0 1 0 6.4 0a3.2 3.2 0 1 0 -6.4 0zM169.6 215.3a3.2 3.2 0 1 0 6.4 0a3.2 3.2 0 1 0 -6.4 0zM150.4 221.1a3.2 3.2 0 1 0 6.4 0a3.2 3.2 0 1 0 -6.4 0zM134.0 222.8a3.2 3.2 0 1 0 6.4 0a3.2 3.2 0 1 0 -6.4 0zM192.4 198.8a3.2 3.2 0 1 0 6.4 0a3.2 3.2 0 1 0 -6.4 0zM132.4 218.2a3.2 3.2 0 1 0 6.4 0a3.2 3.2 0 1 0 -6.4 0zM201.7 179.2a3.2 3.2 0 1 0 6.4 0a3.2 3.2 0 1 0 -6.4 0zM79.0 273.9a3.2 3.2 0 1 0 6.4 0a3.2 3.2 0 1 0 -6.4 0zM134.4 218.3a3.2 3.2 0 1 0 6.4 0a3.2 3.2 0 1 0 -6.4 0zM143.9 215.7a3.2 3.2 0 1 0 6.4 0a3.2 3.2 0 1 0 -6.4 0zM209.6 185.3a3.2 3.2 0 1 0 6.4 0a3.2 3.2 0 1 0 -6.4 0zM111.4 238.3a3.2 3.2 0 1 0 6.4 0a3.2 3.2 0 1 0 -6.4 0zM179.1 202.9a3.2 3.2 0 1 0 6.4 0a3.2 3.2 0 1 0 -6.4 0zM161.2 182.5a3.2 3.2 0 1 0 6.4 0a3.2 3.2 0 1 0 -6.4 0zM166.3 218.8a3.2 3.2 0 1 0 6.4 0a3.2 3.2 0 1 0 -6.4 0zM155.8 195.6a3.2 3.2 0 1 0 6.4 0a3.2 3.2 0 1 0 -6.4 0zM218.1 178.6a3.2 3.2 0 1 0 6.4 0a3.2 3.2 0 1 0 -6.4 0zM123.0 236.2a3.2 3.2 0 1 0 6.4 0a3.2 3.2 0 1 0 -6.4 0zM130.9 235.6a3.2 3.2 0 1 0 6.4 0a3.2 3.2 0 1 0 -6.4 0zM104.0 247.2a3.2 3.2 0 1 0 6.4 0a3.2 3.2 0 1 0 -6.4 0zM76.0 277.4a3.2 3.2 0 1 0 6.4 0a3.2 3.2 0 1 0 -6.4 0zM105.6 253.5a3.2 3.2 0 1 0 6.4 0a3.2 3.2 0 1 0 -6.4 0zM200.0 202.5a3.2 3.2 0 1 0 6.4 0a3.2 3.2 0 1 0 -6.4 0zM185.2 198.6a3.2 3.2 0 1 0 6.4 0a3.2 3.2 0 1 0 -6.4 0zM86.6 273.4a3.2 3.2 0 1 0 6.4 0a3.2 3.2 0 1 0 -6.4 0zM152.9 200.8a3.2 3.2 0 1 0 6.4 0a3.2 3.2 0 1 0 -6.4 0zM139.7 196.8a3.2 3.2 0 1 0 6.4 0a3.2 3.2 0 1 0 -6.4 0zM151.9 200.9a3.2 3.2 0 1 0 6.4 0a3.2 3.2 0 1 0 -6.4 0zM159.2 183.1a3.2 3.2 0 1 0 6.4 0a3.2 3.2 0 1 0 -6.4 0zM119.4 246.4a3.2 3.2 0 1 0 6.4 0a3.2 3.2 0 1 0 -6.4 0zM213.5 174.4a3.2 3.2 0 1 0 6.4 0a3.2 3.2 0 1 0 -6.4 0zM138.3 220.8a3.2 3.2 0 1 0 6.4 0a3.2 3.2 0 1 0 -6.4 0zM155.6 215.6a3.2 3.2 0 1 0 6.4 0a3.2 3.2 0 1 0 -6.4 0zM156.4 207.4a3.2 3.2 0 1 0 6.4 0a3.2 3.2 0 1 0 -6.4 0zM100.6 263.4a3.2 3.2 0 1 0 6.4 0a3.2 3.2 0 1 0 -6.4 0zM77.9 280.9a3.2 3.2 0 1 0 6.4 0a3.2 3.2 0 1 0 -6.4 0zM132.4 206.7a3.2 3.2 0 1 0 6.4 0a3.2 3.2 0 1 0 -6.4 0zM172.6 200.1a3.2 3.2 0 1 0 6.4 0a3.2 3.2 0 1 0 -6.4 0zM180.7 194.9a3.2 3.2 0 1 0 6.4 0a3.2 3.2 0 1 0 -6.4 0zM167.9 190.5a3.2 3.2 0 1 0 6.4 0a3.2 3.2 0 1 0 -6.4 0zM86.8 278.5a3.2 3.2 0 1 0 6.4 0a3.2 3.2 0 1 0 -6.4 0zM199.5 192.9a3.2 3.2 0 1 0 6.4 0a3.2 3.2 0 1 0 -6.4 0zM178.4 186.7a3.2 3.2 0 1 0 6.4 0a3.2 3.2 0 1 0 -6.4 0zM192.3 185.6a3.2 3.2 0 1 0 6.4 0a3.2 3.2 0 1 0 -6.4 0zM144.3 240.1a3.2 3.2 0 1 0 6.4 0a3.2 3.2 0 1 0 -6.4 0zM200.0 202.2a3.2 3.2 0 1 0 6.4 0a3.2 3.2 0 1 0 -6.4 0zM75.4 288.6a3.2 3.2 0 1 0 6.4 0a3.2 3.2 0 1 0 -6.4 0zM72.6 279.6a3.2 3.2 0 1 0 6.4 0a3.2 3.2 0 1 0 -6.4 0zM70.7 287.3a3.2 3.2 0 1 0 6.4 0a3.2 3.2 0 1 0 -6.4 0zM111.6 256.0a3.2 3.2 0 1 0 6.4 0a3.2 3.2 0 1 0 -6.4 0zM111.0 236.6a3.2 3.2 0 1 0 6.4 0a3.2 3.2 0 1 0 -6.4 0zM101.3 262.9a3.2 3.2 0 1 0 6.4 0a3.2 3.2 0 1 0 -6.4 0zM148.9 232.8a3.2 3.2 0 1 0 6.4 0a3.2 3.2 0 1 0 -6.4 0zM74.1 280.1a3.2 3.2 0 1 0 6.4 0a3.2 3.2 0 1 0 -6.4 0zM151.4 192.9a3.2 3.2 0 1 0 6.4 0a3.2 3.2 0 1 0 -6.4 0zM97.2 267.5a3.2 3.2 0 1 0 6.4 0a3.2 3.2 0 1 0 -6.4 0zM161.4 224.7a3.2 3.2 0 1 0 6.4 0a3.2 3.2 0 1 0 -6.4 0zM70.9 286.5a3.2 3.2 0 1 0 6.4 0a3.2 3.2 0 1 0 -6.4 0zM120.0 237.4a3.2 3.2 0 1 0 6.4 0a3.2 3.2 0 1 0 -6.4 0zM205.7 177.1a3.2 3.2 0 1 0 6.4 0a3.2 3.2 0 1 0 -6.4 0zM145.9 191.1a3.2 3.2 0 1 0 6.4 0a3.2 3.2 0 1 0 -6.4 0zM180.0 189.1a3.2 3.2 0 1 0 6.4 0a3.2 3.2 0 1 0 -6.4 0zM159.1 193.8a3.2 3.2 0 1 0 6.4 0a3.2 3.2 0 1 0 -6.4 0zM153.7 203.4a3.2 3.2 0 1 0 6.4 0a3.2 3.2 0 1 0 -6.4 0zM102.0 246.3a3.2 3.2 0 1 0 6.4 0a3.2 3.2 0 1 0 -6.4 0zM149.7 236.2a3.2 3.2 0 1 0 6.4 0a3.2 3.2 0 1 0 -6.4 0zM74.2 285.1a3.2 3.2 0 1 0 6.4 0a3.2 3.2 0 1 0 -6.4 0zM178.4 184.0a3.2 3.2 0 1 0 6.4 0a3.2 3.2 0 1 0 -6.4 0zM213.0 176.2a3.2 3.2 0 1 0 6.4 0a3.2 3.2 0 1 0 -6.4 0zM187.7 203.0a3.2 3.2 0 1 0 6.4 0a3.2 3.2 0 1 0 -6.4 0zM76.0 280.3a3.2 3.2 0 1 0 6.4 0a3.2 3.2 0 1 0 -6.4 0zM123.8 220.3a3.2 3.2 0 1 0 6.4 0a3.2 3.2 0 1 0 -6.4 0zM121.0 235.9a3.2 3.2 0 1 0 6.4 0a3.2 3.2 0 1 0 -6.4 0zM86.7 270.7a3.2 3.2 0 1 0 6.4 0a3.2 3.2 0 1 0 -6.4 0zM155.4 191.8a3.2 3.2 0 1 0 6.4 0a3.2 3.2 0 1 0 -6.4 0zM177.7 199.0a3.2 3.2 0 1 0 6.4 0a3.2 3.2 0 1 0 -6.4 0zM120.4 244.0a3.2 3.2 0 1 0 6.4 0a3.2 3.2 0 1 0 -6.4 0zM189.4 176.0a3.2 3.2 0 1 0 6.4 0a3.2 3.2 0 1 0 -6.4 0zM177.7 203.6a3.2 3.2 0 1 0 6.4 0a3.2 3.2 0 1 0 -6.4 0zM89.8 277.1a3.2 3.2 0 1 0 6.4 0a3.2 3.2 0 1 0 -6.4 0zM173.0 180.8a3.2 3.2 0 1 0 6.4 0a3.2 3.2 0 1 0 -6.4 0zM193.2 175.8a3.2 3.2 0 1 0 6.4 0a3.2 3.2 0 1 0 -6.4 0zM103.0 262.1a3.2 3.2 0 1 0 6.4 0a3.2 3.2 0 1 0 -6.4 0zM149.6 199.9a3.2 3.2 0 1 0 6.4 0a3.2 3.2 0 1 0 -6.4 0zM156.8 201.0a3.2 3.2 0 1 0 6.4 0a3.2 3.2 0 1 0 -6.4 0zM153.5 211.6a3.2 3.2 0 1 0 6.4 0a3.2 3.2 0 1 0 -6.4 0zM83.7 269.4a3.2 3.2 0 1 0 6.4 0a3.2 3.2 0 1 0 -6.4 0zM159.4 201.1a3.2 3.2 0 1 0 6.4 0a3.2 3.2 0 1 0 -6.4 0zM156.0 202.6a3.2 3.2 0 1 0 6.4 0a3.2 3.2 0 1 0 -6.4 0zM182.2 193.3a3.2 3.2 0 1 0 6.4 0a3.2 3.2 0 1 0 -6.4 0zM178.7 184.2a3.2 3.2 0 1 0 6.4 0a3.2 3.2 0 1 0 -6.4 0zM122.3 244.4a3.2 3.2 0 1 0 6.4 0a3.2 3.2 0 1 0 -6.4 0zM166.9 186.3a3.2 3.2 0 1 0 6.4 0a3.2 3.2 0 1 0 -6.4 0zM190.3 204.9a3.2 3.2 0 1 0 6.4 0a3.2 3.2 0 1 0 -6.4 0zM195.3 180.7a3.2 3.2 0 1 0 6.4 0a3.2 3.2 0 1 0 -6.4 0zM96.2 257.6a3.2 3.2 0 1 0 6.4 0a3.2 3.2 0 1 0 -6.4 0zM71.9 286.4a3.2 3.2 0 1 0 6.4 0a3.2 3.2 0 1 0 -6.4 0zM158.2 199.7a3.2 3.2 0 1 0 6.4 0a3.2 3.2 0 1 0 -6.4 0zM105.9 264.6a3.2 3.2 0 1 0 6.4 0a3.2 3.2 0 1 0 -6.4 0zM148.5 231.0a3.2 3.2 0 1 0 6.4 0a3.2 3.2 0 1 0 -6.4 0zM207.6 182.8a3.2 3.2 0 1 0 6.4 0a3.2 3.2 0 1 0 -6.4 0zM128.8 226.2a3.2 3.2 0 1 0 6.4 0a3.2 3.2 0 1 0 -6.4 0zM111.6 235.8a3.2 3.2 0 1 0 6.4 0a3.2 3.2 0 1 0 -6.4 0zM137.3 202.0a3.2 3.2 0 1 0 6.4 0a3.2 3.2 0 1 0 -6.4 0zM159.0 197.8a3.2 3.2 0 1 0 6.4 0a3.2 3.2 0 1 0 -6.4 0zM84.5 269.2a3.2 3.2 0 1 0 6.4 0a3.2 3.2 0 1 0 -6.4 0zM128.9 227.4a3.2 3.2 0 1 0 6.4 0a3.2 3.2 0 1 0 -6.4 0zM90.7 269.2a3.2 3.2 0 1 0 6.4 0a3.2 3.2 0 1 0 -6.4 0zM159.6 215.5a3.2 3.2 0 1 0 6.4 0a3.2 3.2 0 1 0 -6.4 0zM183.4 193.3a3.2 3.2 0 1 0 6.4 0a3.2 3.2 0 1 0 -6.4 0zM128.5 248.7a3.2 3.2 0 1 0 6.4 0a3.2 3.2 0 1 0 -6.4 0zM127.9 223.6a3.2 3.2 0 1 0 6.4 0a3.2 3.2 0 1 0 -6.4 0zM146.0 196.6a3.2 3.2 0 1 0 6.4 0a3.2 3.2 0 1 0 -6.4 0zM106.0 244.5a3.2 3.2 0 1 0 6.4 0a3.2 3.2 0 1 0 -6.4 0zM110.9 242.1a3.2 3.2 0 1 0 6.4 0a3.2 3.2 0 1 0 -6.4 0zM122.6 221.2a3.2 3.2 0 1 0 6.4 0a3.2 3.2 0 1 0 -6.4 0zM137.4 226.3a3.2 3.2 0 1 0 6.4 0a3.2 3.2 0 1 0 -6.4 0zM81.1 277.5a3.2 3.2 0 1 0 6.4 0a3.2 3.2 0 1 0 -6.4 0zM171.0 204.1a3.2 3.2 0 1 0 6.4 0a3.2 3.2 0 1 0 -6.4 0zM150.2 200.9a3.2 3.2 0 1 0 6.4 0a3.2 3.2 0 1 0 -6.4 0zM118.4 227.6a3.2 3.2 0 1 0 6.4 0a3.2 3.2 0 1 0 -6.4 0zM80.4 273.4a3.2 3.2 0 1 0 6.4 0a3.2 3.2 0 1 0 -6.4 0zM172.5 195.2a3.2 3.2 0 1 0 6.4 0a3.2 3.2 0 1 0 -6.4 0zM90.2 273.0a3.2 3.2 0 1 0 6.4 0a3.2 3.2 0 1 0 -6.4 0zM90.6 263.9a3.2 3.2 0 1 0 6.4 0a3.2 3.2 0 1 0 -6.4 0zM90.1 276.3a3.2 3.2 0 1 0 6.4 0a3.2 3.2 0 1 0 -6.4 0zM81.0 271.3a3.2 3.2 0 1 0 6.4 0a3.2 3.2 0 1 0 -6.4 0zM198.1 191.3a3.2 3.2 0 1 0 6.4 0a3.2 3.2 0 1 0 -6.4 0zM114.0 253.3a3.2 3.2 0 1 0 6.4 0a3.2 3.2 0 1 0 -6.4 0zM119.4 243.5a3.2 3.2 0 1 0 6.4 0a3.2 3.2 0 1 0 -6.4 0zM183.8 199.8a3.2 3.2 0 1 0 6.4 0a3.2 3.2 0 1 0 -6.4 0zM154.7 200.4a3.2 3.2 0 1 0 6.4 0a3.2 3.2 0 1 0 -6.4 0zM101.2 250.5a3.2 3.2 0 1 0 6.4 0a3.2 3.2 0 1 0 -6.4 0zM134.9 204.6a3.2 3.2 0 1 0 6.4 0a3.2 3.2 0 1 0 -6.4 0zM193.5 184.3a3.2 3.2 0 1 0 6.4 0a3.2 3.2 0 1 0 -6.4 0zM128.3 242.8a3.2 3.2 0 1 0 6.4 0a3.2 3.2 0 1 0 -6.4 0zM165.5 189.8a3.2 3.2 0 1 0 6.4 0a3.2 3.2 0 1 0 -6.4 0zM83.8 277.7a3.2 3.2 0 1 0 6.4 0a3.2 3.2 0 1 0 -6.4 0zM167.6 208.2a3.2 3.2 0 1 0 6.4 0a3.2 3.2 0 1 0 -6.4 0zM174.4 191.2a3.2 3.2 0 1 0 6.4 0a3.2 3.2 0 1 0 -6.4 0zM182.5 190.8a3.2 3.2 0 1 0 6.4 0a3.2 3.2 0 1 0 -6.4 0zM161.0 229.8a3.2 3.2 0 1 0 6.4 0a3.2 3.2 0 1 0 -6.4 0zM127.8 240.1a3.2 3.2 0 1 0 6.4 0a3.2 3.2 0 1 0 -6.4 0zM78.2 286.4a3.2 3.2 0 1 0 6.4 0a3.2 3.2 0 1 0 -6.4 0zM143.8 230.2a3.2 3.2 0 1 0 6.4 0a3.2 3.2 0 1 0 -6.4 0zM171.7 206.1a3.2 3.2 0 1 0 6.4 0a3.2 3.2 0 1 0 -6.4 0zM101.9 262.4a3.2 3.2 0 1 0 6.4 0a3.2 3.2 0 1 0 -6.4 0zM113.6 259.8a3.2 3.2 0 1 0 6.4 0a3.2 3.2 0 1 0 -6.4 0zM145.6 222.2a3.2 3.2 0 1 0 6.4 0a3.2 3.2 0 1 0 -6.4 0zM170.4 193.3a3.2 3.2 0 1 0 6.4 0a3.2 3.2 0 1 0 -6.4 0zM196.0 175.8a3.2 3.2 0 1 0 6.4 0a3.2 3.2 0 1 0 -6.4 0zM89.2 264.8a3.2 3.2 0 1 0 6.4 0a3.2 3.2 0 1 0 -6.4 0zM100.7 264.7a3.2 3.2 0 1 0 6.4 0a3.2 3.2 0 1 0 -6.4 0zM178.0 196.1a3.2 3.2 0 1 0 6.4 0a3.2 3.2 0 1 0 -6.4 0zM157.5 204.8a3.2 3.2 0 1 0 6.4 0a3.2 3.2 0 1 0 -6.4 0zM166.8 209.1a3.2 3.2 0 1 0 6.4 0a3.2 3.2 0 1 0 -6.4 0zM242.3 181.4a3.2 3.2 0 1 0 6.4 0a3.2 3.2 0 1 0 -6.4 0zM206.0 191.1a3.2 3.2 0 1 0 6.4 0a3.2 3.2 0 1 0 -6.4 0zM185.7 202.3a3.2 3.2 0 1 0 6.4 0a3.2 3.2 0 1 0 -6.4 0zM174.5 207.9a3.2 3.2 0 1 0 6.4 0a3.2 3.2 0 1 0 -6.4 0zM130.5 206.8a3.2 3.2 0 1 0 6.4 0a3.2 3.2 0 1 0 -6.4 0zM157.1 186.9a3.2 3.2 0 1 0 6.4 0a3.2 3.2 0 1 0 -6.4 0zM100.7 266.3a3.2 3.2 0 1 0 6.4 0a3.2 3.2 0 1 0 -6.4 0zM172.0 215.3a3.2 3.2 0 1 0 6.4 0a3.2 3.2 0 1 0 -6.4 0zM171.7 193.1a3.2 3.2 0 1 0 6.4 0a3.2 3.2 0 1 0 -6.4 0zM166.8 191.2a3.2 3.2 0 1 0 6.4 0a3.2 3.2 0 1 0 -6.4 0zM136.0 199.1a3.2 3.2 0 1 0 6.4 0a3.2 3.2 0 1 0 -6.4 0zM128.6 219.1a3.2 3.2 0 1 0 6.4 0a3.2 3.2 0 1 0 -6.4 0zM133.3 218.2a3.2 3.2 0 1 0 6.4 0a3.2 3.2 0 1 0 -6.4 0zM73.1 289.5a3.2 3.2 0 1 0 6.4 0a3.2 3.2 0 1 0 -6.4 0zM185.9 178.0a3.2 3.2 0 1 0 6.4 0a3.2 3.2 0 1 0 -6.4 0zM146.3 200.1a3.2 3.2 0 1 0 6.4 0a3.2 3.2 0 1 0 -6.4 0zM129.7 236.4a3.2 3.2 0 1 0 6.4 0a3.2 3.2 0 1 0 -6.4 0zM146.9 193.4a3.2 3.2 0 1 0 6.4 0a3.2 3.2 0 1 0 -6.4 0zM166.8 222.8a3.2 3.2 0 1 0 6.4 0a3.2 3.2 0 1 0 -6.4 0zM129.0 243.4a3.2 3.2 0 1 0 6.4 0a3.2 3.2 0 1 0 -6.4 0zM183.4 187.3a3.2 3.2 0 1 0 6.4 0a3.2 3.2 0 1 0 -6.4 0zM200.9 196.4a3.2 3.2 0 1 0 6.4 0a3.2 3.2 0 1 0 -6.4 0zM129.7 240.9a3.2 3.2 0 1 0 6.4 0a3.2 3.2 0 1 0 -6.4 0zM91.5 273.9a3.2 3.2 0 1 0 6.4 0a3.2 3.2 0 1 0 -6.4 0zM172.1 200.5a3.2 3.2 0 1 0 6.4 0a3.2 3.2 0 1 0 -6.4 0zM235.3 180.8a3.2 3.2 0 1 0 6.4 0a3.2 3.2 0 1 0 -6.4 0zM93.5 255.8a3.2 3.2 0 1 0 6.4 0a3.2 3.2 0 1 0 -6.4 0zM165.7 194.9a3.2 3.2 0 1 0 6.4 0a3.2 3.2 0 1 0 -6.4 0zM182.5 187.7a3.2 3.2 0 1 0 6.4 0a3.2 3.2 0 1 0 -6.4 0zM201.2 194.0a3.2 3.2 0 1 0 6.4 0a3.2 3.2 0 1 0 -6.4 0zM88.7 267.9a3.2 3.2 0 1 0 6.4 0a3.2 3.2 0 1 0 -6.4 0zM82.9 273.9a3.2 3.2 0 1 0 6.4 0a3.2 3.2 0 1 0 -6.4 0zM229.3 186.7a3.2 3.2 0 1 0 6.4 0a3.2 3.2 0 1 0 -6.4 0zM87.4 265.0a3.2 3.2 0 1 0 6.4 0a3.2 3.2 0 1 0 -6.4 0zM99.3 250.7a3.2 3.2 0 1 0 6.4 0a3.2 3.2 0 1 0 -6.4 0zM149.7 199.9a3.2 3.2 0 1 0 6.4 0a3.2 3.2 0 1 0 -6.4 0zM136.2 199.6a3.2 3.2 0 1 0 6.4 0a3.2 3.2 0 1 0 -6.4 0zM170.7 217.1a3.2 3.2 0 1 0 6.4 0a3.2 3.2 0 1 0 -6.4 0zM101.8 247.4a3.2 3.2 0 1 0 6.4 0a3.2 3.2 0 1 0 -6.4 0zM199.8 197.2a3.2 3.2 0 1 0 6.4 0a3.2 3.2 0 1 0 -6.4 0zM106.3 254.1a3.2 3.2 0 1 0 6.4 0a3.2 3.2 0 1 0 -6.4 0zM173.4 178.0a3.2 3.2 0 1 0 6.4 0a3.2 3.2 0 1 0 -6.4 0zM78.8 284.5a3.2 3.2 0 1 0 6.4 0a3.2 3.2 0 1 0 -6.4 0zM139.1 223.2a3.2 3.2 0 1 0 6.4 0a3.2 3.2 0 1 0 -6.4 0zM73.0 278.9a3.2 3.2 0 1 0 6.4 0a3.2 3.2 0 1 0 -6.4 0zM120.4 243.5a3.2 3.2 0 1 0 6.4 0a3.2 3.2 0 1 0 -6.4 0zM120.2 222.6a3.2 3.2 0 1 0 6.4 0a3.2 3.2 0 1 0 -6.4 0zM166.6 186.8a3.2 3.2 0 1 0 6.4 0a3.2 3.2 0 1 0 -6.4 0zM137.1 233.5a3.2 3.2 0 1 0 6.4 0a3.2 3.2 0 1 0 -6.4 0zM77.0 288.7a3.2 3.2 0 1 0 6.4 0a3.2 3.2 0 1 0 -6.4 0zM239.3 179.6a3.2 3.2 0 1 0 6.4 0a3.2 3.2 0 1 0 -6.4 0zM194.5 190.8a3.2 3.2 0 1 0 6.4 0a3.2 3.2 0 1 0 -6.4 0zM200.2 193.7a3.2 3.2 0 1 0 6.4 0a3.2 3.2 0 1 0 -6.4 0zM110.7 255.5a3.2 3.2 0 1 0 6.4 0a3.2 3.2 0 1 0 -6.4 0zM130.4 240.1a3.2 3.2 0 1 0 6.4 0a3.2 3.2 0 1 0 -6.4 0zM107.9 247.5a3.2 3.2 0 1 0 6.4 0a3.2 3.2 0 1 0 -6.4 0zM89.0 273.5a3.2 3.2 0 1 0 6.4 0a3.2 3.2 0 1 0 -6.4 0zM73.1 284.2a3.2 3.2 0 1 0 6.4 0a3.2 3.2 0 1 0 -6.4 0zM142.2 210.4a3.2 3.2 0 1 0 6.4 0a3.2 3.2 0 1 0 -6.4 0zM88.7 266.6a3.2 3.2 0 1 0 6.4 0a3.2 3.2 0 1 0 -6.4 0zM99.2 267.9a3.2 3.2 0 1 0 6.4 0a3.2 3.2 0 1 0 -6.4 0zM189.0 187.4a3.2 3.2 0 1 0 6.4 0a3.2 3.2 0 1 0 -6.4 0zM140.2 211.9a3.2 3.2 0 1 0 6.4 0a3.2 3.2 0 1 0 -6.4 0zM100.6 257.6a3.2 3.2 0 1 0 6.4 0a3.2 3.2 0 1 0 -6.4 0zM160.5 205.9a3.2 3.2 0 1 0 6.4 0a3.2 3.2 0 1 0 -6.4 0zM113.5 247.4a3.2 3.2 0 1 0 6.4 0a3.2 3.2 0 1 0 -6.4 0zM144.7 203.4a3.2 3.2 0 1 0 6.4 0a3.2 3.2 0 1 0 -6.4 0zM116.0 241.0a3.2 3.2 0 1 0 6.4 0a3.2 3.2 0 1 0 -6.4 0zM143.6 232.6a3.2 3.2 0 1 0 6.4 0a3.2 3.2 0 1 0 -6.4 0zM155.7 225.5a3.2 3.2 0 1 0 6.4 0a3.2 3.2 0 1 0 -6.4 0zM145.7 230.3a3.2 3.2 0 1 0 6.4 0a3.2 3.2 0 1 0 -6.4 0zM130.6 232.3a3.2 3.2 0 1 0 6.4 0a3.2 3.2 0 1 0 -6.4 0zM176.6 181.4a3.2 3.2 0 1 0 6.4 0a3.2 3.2 0 1 0 -6.4 0zM191.4 183.4a3.2 3.2 0 1 0 6.4 0a3.2 3.2 0 1 0 -6.4 0zM99.8 252.4a3.2 3.2 0 1 0 6.4 0a3.2 3.2 0 1 0 -6.4 0zM91.2 267.4a3.2 3.2 0 1 0 6.4 0a3.2 3.2 0 1 0 -6.4 0zM86.8 273.3a3.2 3.2 0 1 0 6.4 0a3.2 3.2 0 1 0 -6.4 0zM222.8 187.5a3.2 3.2 0 1 0 6.4 0a3.2 3.2 0 1 0 -6.4 0zM206.7 176.8a3.2 3.2 0 1 0 6.4 0a3.2 3.2 0 1 0 -6.4 0zM108.4 252.8a3.2 3.2 0 1 0 6.4 0a3.2 3.2 0 1 0 -6.4 0zM217.3 180.7a3.2 3.2 0 1 0 6.4 0a3.2 3.2 0 1 0 -6.4 0zM104.8 260.0a3.2 3.2 0 1 0 6.4 0a3.2 3.2 0 1 0 -6.4 0zM142.6 214.9a3.2 3.2 0 1 0 6.4 0a3.2 3.2 0 1 0 -6.4 0zM141.6 204.4a3.2 3.2 0 1 0 6.4 0a3.2 3.2 0 1 0 -6.4 0zM199.9 204.3a3.2 3.2 0 1 0 6.4 0a3.2 3.2 0 1 0 -6.4 0zM74.4 287.9a3.2 3.2 0 1 0 6.4 0a3.2 3.2 0 1 0 -6.4 0zM120.7 239.2a3.2 3.2 0 1 0 6.4 0a3.2 3.2 0 1 0 -6.4 0zM152.5 196.1a3.2 3.2 0 1 0 6.4 0a3.2 3.2 0 1 0 -6.4 0zM78.6 277.6a3.2 3.2 0 1 0 6.4 0a3.2 3.2 0 1 0 -6.4 0zM109.3 241.8a3.2 3.2 0 1 0 6.4 0a3.2 3.2 0 1 0 -6.4 0zM138.2 229.8a3.2 3.2 0 1 0 6.4 0a3.2 3.2 0 1 0 -6.4 0zM192.9 193.5a3.2 3.2 0 1 0 6.4 0a3.2 3.2 0 1 0 -6.4 0zM172.2 215.2a3.2 3.2 0 1 0 6.4 0a3.2 3.2 0 1 0 -6.4 0zM183.1 195.3a3.2 3.2 0 1 0 6.4 0a3.2 3.2 0 1 0 -6.4 0zM172.2 184.5a3.2 3.2 0 1 0 6.4 0a3.2 3.2 0 1 0 -6.4 0zM165.1 196.6a3.2 3.2 0 1 0 6.4 0a3.2 3.2 0 1 0 -6.4 0zM186.9 198.3a3.2 3.2 0 1 0 6.4 0a3.2 3.2 0 1 0 -6.4 0zM161.9 217.8a3.2 3.2 0 1 0 6.4 0a3.2 3.2 0 1 0 -6.4 0zM168.7 192.8a3.2 3.2 0 1 0 6.4 0a3.2 3.2 0 1 0 -6.4 0zM118.7 234.3a3.2 3.2 0 1 0 6.4 0a3.2 3.2 0 1 0 -6.4 0zM97.5 252.6a3.2 3.2 0 1 0 6.4 0a3.2 3.2 0 1 0 -6.4 0zM171.5 212.7a3.2 3.2 0 1 0 6.4 0a3.2 3.2 0 1 0 -6.4 0zM97.1 267.2a3.2 3.2 0 1 0 6.4 0a3.2 3.2 0 1 0 -6.4 0zM200.9 193.8a3.2 3.2 0 1 0 6.4 0a3.2 3.2 0 1 0 -6.4 0zM152.1 225.0a3.2 3.2 0 1 0 6.4 0a3.2 3.2 0 1 0 -6.4 0zM122.6 228.6a3.2 3.2 0 1 0 6.4 0a3.2 3.2 0 1 0 -6.4 0zM205.2 183.1a3.2 3.2 0 1 0 6.4 0a3.2 3.2 0 1 0 -6.4 0zM95.0 267.9a3.2 3.2 0 1 0 6.4 0a3.2 3.2 0 1 0 -6.4 0zM143.4 212.5a3.2 3.2 0 1 0 6.4 0a3.2 3.2 0 1 0 -6.4 0zM82.8 274.7a3.2 3.2 0 1 0 6.4 0a3.2 3.2 0 1 0 -6.4 0zM215.2 184.4a3.2 3.2 0 1 0 6.4 0a3.2 3.2 0 1 0 -6.4 0zM149.8 228.2a3.2 3.2 0 1 0 6.4 0a3.2 3.2 0 1 0 -6.4 0zM178.7 187.0a3.2 3.2 0 1 0 6.4 0a3.2 3.2 0 1 0 -6.4 0zM115.9 232.0a3.2 3.2 0 1 0 6.4 0a3.2 3.2 0 1 0 -6.4 0zM178.4 209.6a3.2 3.2 0 1 0 6.4 0a3.2 3.2 0 1 0 -6.4 0zM164.5 202.0a3.2 3.2 0 1 0 6.4 0a3.2 3.2 0 1 0 -6.4 0zM157.4 200.0a3.2 3.2 0 1 0 6.4 0a3.2 3.2 0 1 0 -6.4 0zM209.5 178.7a3.2 3.2 0 1 0 6.4 0a3.2 3.2 0 1 0 -6.4 0zM134.8 228.8a3.2 3.2 0 1 0 6.4 0a3.2 3.2 0 1 0 -6.4 0zM132.8 222.3a3.2 3.2 0 1 0 6.4 0a3.2 3.2 0 1 0 -6.4 0zM163.1 223.3a3.2 3.2 0 1 0 6.4 0a3.2 3.2 0 1 0 -6.4 0zM184.2 187.1a3.2 3.2 0 1 0 6.4 0a3.2 3.2 0 1 0 -6.4 0zM123.3 246.3a3.2 3.2 0 1 0 6.4 0a3.2 3.2 0 1 0 -6.4 0zM160.4 201.2a3.2 3.2 0 1 0 6.4 0a3.2 3.2 0 1 0 -6.4 0zM105.0 251.4a3.2 3.2 0 1 0 6.4 0a3.2 3.2 0 1 0 -6.4 0zM147.3 213.3a3.2 3.2 0 1 0 6.4 0a3.2 3.2 0 1 0 -6.4 0zM173.4 199.3a3.2 3.2 0 1 0 6.4 0a3.2 3.2 0 1 0 -6.4 0zM78.4 276.9a3.2 3.2 0 1 0 6.4 0a3.2 3.2 0 1 0 -6.4 0zM167.6 190.1a3.2 3.2 0 1 0 6.4 0a3.2 3.2 0 1 0 -6.4 0zM69.8 286.6a3.2 3.2 0 1 0 6.4 0a3.2 3.2 0 1 0 -6.4 0zM212.3 189.7a3.2 3.2 0 1 0 6.4 0a3.2 3.2 0 1 0 -6.4 0zM138.6 220.5a3.2 3.2 0 1 0 6.4 0a3.2 3.2 0 1 0 -6.4 0zM132.1 219.4a3.2 3.2 0 1 0 6.4 0a3.2 3.2 0 1 0 -6.4 0zM166.7 210.0a3.2 3.2 0 1 0 6.4 0a3.2 3.2 0 1 0 -6.4 0zM144.3 236.1a3.2 3.2 0 1 0 6.4 0a3.2 3.2 0 1 0 -6.4 0zM168.0 210.5a3.2 3.2 0 1 0 6.4 0a3.2 3.2 0 1 0 -6.4 0zM81.6 279.6a3.2 3.2 0 1 0 6.4 0a3.2 3.2 0 1 0 -6.4 0zM148.4 209.0a3.2 3.2 0 1 0 6.4 0a3.2 3.2 0 1 0 -6.4 0zM147.9 229.7a3.2 3.2 0 1 0 6.4 0a3.2 3.2 0 1 0 -6.4 0zM204.0 185.4a3.2 3.2 0 1 0 6.4 0a3.2 3.2 0 1 0 -6.4 0zM74.2 283.3a3.2 3.2 0 1 0 6.4 0a3.2 3.2 0 1 0 -6.4 0zM136.9 204.5a3.2 3.2 0 1 0 6.4 0a3.2 3.2 0 1 0 -6.4 0zM155.9 230.2a3.2 3.2 0 1 0 6.4 0a3.2 3.2 0 1 0 -6.4 0zM147.2 191.3a3.2 3.2 0 1 0 6.4 0a3.2 3.2 0 1 0 -6.4 0zM79.9 275.7a3.2 3.2 0 1 0 6.4 0a3.2 3.2 0 1 0 -6.4 0zM151.7 233.9a3.2 3.2 0 1 0 6.4 0a3.2 3.2 0 1 0 -6.4 0zM107.1 257.3a3.2 3.2 0 1 0 6.4 0a3.2 3.2 0 1 0 -6.4 0zM102.7 247.6a3.2 3.2 0 1 0 6.4 0a3.2 3.2 0 1 0 -6.4 0zM192.5 190.8a3.2 3.2 0 1 0 6.4 0a3.2 3.2 0 1 0 -6.4 0zM103.1 242.5a3.2 3.2 0 1 0 6.4 0a3.2 3.2 0 1 0 -6.4 0zM137.0 210.6a3.2 3.2 0 1 0 6.4 0a3.2 3.2 0 1 0 -6.4 0zM170.7 192.1a3.2 3.2 0 1 0 6.4 0a3.2 3.2 0 1 0 -6.4 0zM165.0 201.0a3.2 3.2 0 1 0 6.4 0a3.2 3.2 0 1 0 -6.4 0zM147.5 199.0a3.2 3.2 0 1 0 6.4 0a3.2 3.2 0 1 0 -6.4 0zM179.3 193.9a3.2 3.2 0 1 0 6.4 0a3.2 3.2 0 1 0 -6.4 0zM138.3 225.9a3.2 3.2 0 1 0 6.4 0a3.2 3.2 0 1 0 -6.4 0zM154.7 191.7a3.2 3.2 0 1 0 6.4 0a3.2 3.2 0 1 0 -6.4 0zM181.3 196.5a3.2 3.2 0 1 0 6.4 0a3.2 3.2 0 1 0 -6.4 0zM161.4 223.3a3.2 3.2 0 1 0 6.4 0a3.2 3.2 0 1 0 -6.4 0zM157.2 221.5a3.2 3.2 0 1 0 6.4 0a3.2 3.2 0 1 0 -6.4 0zM131.8 217.2a3.2 3.2 0 1 0 6.4 0a3.2 3.2 0 1 0 -6.4 0zM148.0 227.8a3.2 3.2 0 1 0 6.4 0a3.2 3.2 0 1 0 -6.4 0zM130.7 220.3a3.2 3.2 0 1 0 6.4 0a3.2 3.2 0 1 0 -6.4 0zM169.8 202.4a3.2 3.2 0 1 0 6.4 0a3.2 3.2 0 1 0 -6.4 0zM128.9 243.7a3.2 3.2 0 1 0 6.4 0a3.2 3.2 0 1 0 -6.4 0zM138.4 206.6a3.2 3.2 0 1 0 6.4 0a3.2 3.2 0 1 0 -6.4 0zM171.4 180.0a3.2 3.2 0 1 0 6.4 0a3.2 3.2 0 1 0 -6.4 0zM142.3 224.2a3.2 3.2 0 1 0 6.4 0a3.2 3.2 0 1 0 -6.4 0zM123.7 236.1a3.2 3.2 0 1 0 6.4 0a3.2 3.2 0 1 0 -6.4 0zM182.7 182.8a3.2 3.2 0 1 0 6.4 0a3.2 3.2 0 1 0 -6.4 0zM129.0 233.9a3.2 3.2 0 1 0 6.4 0a3.2 3.2 0 1 0 -6.4 0zM186.0 194.0a3.2 3.2 0 1 0 6.4 0a3.2 3.2 0 1 0 -6.4 0zM175.8 190.9a3.2 3.2 0 1 0 6.4 0a3.2 3.2 0 1 0 -6.4 0zM136.3 231.5a3.2 3.2 0 1 0 6.4 0a3.2 3.2 0 1 0 -6.4 0zM165.7 210.0a3.2 3.2 0 1 0 6.4 0a3.2 3.2 0 1 0 -6.4 0zM73.3 284.4a3.2 3.2 0 1 0 6.4 0a3.2 3.2 0 1 0 -6.4 0zM130.0 210.1a3.2 3.2 0 1 0 6.4 0a3.2 3.2 0 1 0 -6.4 0zM188.9 195.3a3.2 3.2 0 1 0 6.4 0a3.2 3.2 0 1 0 -6.4 0zM150.2 200.6a3.2 3.2 0 1 0 6.4 0a3.2 3.2 0 1 0 -6.4 0zM147.9 195.0a3.2 3.2 0 1 0 6.4 0a3.2 3.2 0 1 0 -6.4 0zM159.9 189.7a3.2 3.2 0 1 0 6.4 0a3.2 3.2 0 1 0 -6.4 0zM161.4 192.1a3.2 3.2 0 1 0 6.4 0a3.2 3.2 0 1 0 -6.4 0zM150.7 208.4a3.2 3.2 0 1 0 6.4 0a3.2 3.2 0 1 0 -6.4 0zM133.4 223.1a3.2 3.2 0 1 0 6.4 0a3.2 3.2 0 1 0 -6.4 0zM100.6 262.1a3.2 3.2 0 1 0 6.4 0a3.2 3.2 0 1 0 -6.4 0zM117.4 253.9a3.2 3.2 0 1 0 6.4 0a3.2 3.2 0 1 0 -6.4 0zM117.5 228.0a3.2 3.2 0 1 0 6.4 0a3.2 3.2 0 1 0 -6.4 0zM134.5 219.9a3.2 3.2 0 1 0 6.4 0a3.2 3.2 0 1 0 -6.4 0zM249.5 175.8a3.2 3.2 0 1 0 6.4 0a3.2 3.2 0 1 0 -6.4 0zM125.6 227.0a3.2 3.2 0 1 0 6.4 0a3.2 3.2 0 1 0 -6.4 0zM136.3 206.0a3.2 3.2 0 1 0 6.4 0a3.2 3.2 0 1 0 -6.4 0zM127.9 235.0a3.2 3.2 0 1 0 6.4 0a3.2 3.2 0 1 0 -6.4 0zM150.4 218.1a3.2 3.2 0 1 0 6.4 0a3.2 3.2 0 1 0 -6.4 0zM208.6 196.9a3.2 3.2 0 1 0 6.4 0a3.2 3.2 0 1 0 -6.4 0zM194.5 195.0a3.2 3.2 0 1 0 6.4 0a3.2 3.2 0 1 0 -6.4 0zM128.5 231.7a3.2 3.2 0 1 0 6.4 0a3.2 3.2 0 1 0 -6.4 0zM113.7 249.2a3.2 3.2 0 1 0 6.4 0a3.2 3.2 0 1 0 -6.4 0zM193.6 183.5a3.2 3.2 0 1 0 6.4 0a3.2 3.2 0 1 0 -6.4 0zM141.2 208.0a3.2 3.2 0 1 0 6.4 0a3.2 3.2 0 1 0 -6.4 0zM162.3 217.7a3.2 3.2 0 1 0 6.4 0a3.2 3.2 0 1 0 -6.4 0zM79.7 281.2a3.2 3.2 0 1 0 6.4 0a3.2 3.2 0 1 0 -6.4 0zM190.1 181.9a3.2 3.2 0 1 0 6.4 0a3.2 3.2 0 1 0 -6.4 0zM120.3 242.9a3.2 3.2 0 1 0 6.4 0a3.2 3.2 0 1 0 -6.4 0zM141.3 231.0a3.2 3.2 0 1 0 6.4 0a3.2 3.2 0 1 0 -6.4 0zM103.2 252.1a3.2 3.2 0 1 0 6.4 0a3.2 3.2 0 1 0 -6.4 0zM133.3 239.7a3.2 3.2 0 1 0 6.4 0a3.2 3.2 0 1 0 -6.4 0zM183.0 206.9a3.2 3.2 0 1 0 6.4 0a3.2 3.2 0 1 0 -6.4 0zM182.9 204.5a3.2 3.2 0 1 0 6.4 0a3.2 3.2 0 1 0 -6.4 0zM139.1 223.7a3.2 3.2 0 1 0 6.4 0a3.2 3.2 0 1 0 -6.4 0zM173.2 209.9a3.2 3.2 0 1 0 6.4 0a3.2 3.2 0 1 0 -6.4 0zM137.4 202.2a3.2 3.2 0 1 0 6.4 0a3.2 3.2 0 1 0 -6.4 0zM128.1 236.0a3.2 3.2 0 1 0 6.4 0a3.2 3.2 0 1 0 -6.4 0zM146.7 214.5a3.2 3.2 0 1 0 6.4 0a3.2 3.2 0 1 0 -6.4 0zM103.7 258.0a3.2 3.2 0 1 0 6.4 0a3.2 3.2 0 1 0 -6.4 0zM120.8 222.8a3.2 3.2 0 1 0 6.4 0a3.2 3.2 0 1 0 -6.4 0zM164.9 216.6a3.2 3.2 0 1 0 6.4 0a3.2 3.2 0 1 0 -6.4 0zM173.6 190.3a3.2 3.2 0 1 0 6.4 0a3.2 3.2 0 1 0 -6.4 0zM77.0 277.7a3.2 3.2 0 1 0 6.4 0a3.2 3.2 0 1 0 -6.4 0zM168.3 214.0a3.2 3.2 0 1 0 6.4 0a3.2 3.2 0 1 0 -6.4 0zM181.1 182.6a3.2 3.2 0 1 0 6.4 0a3.2 3.2 0 1 0 -6.4 0zM136.1 213.3a3.2 3.2 0 1 0 6.4 0a3.2 3.2 0 1 0 -6.4 0zM78.0 279.3a3.2 3.2 0 1 0 6.4 0a3.2 3.2 0 1 0 -6.4 0zM162.0 203.0a3.2 3.2 0 1 0 6.4 0a3.2 3.2 0 1 0 -6.4 0zM110.7 238.0a3.2 3.2 0 1 0 6.4 0a3.2 3.2 0 1 0 -6.4 0zM157.4 208.9a3.2 3.2 0 1 0 6.4 0a3.2 3.2 0 1 0 -6.4 0zM128.5 208.6a3.2 3.2 0 1 0 6.4 0a3.2 3.2 0 1 0 -6.4 0zM156.6 193.0a3.2 3.2 0 1 0 6.4 0a3.2 3.2 0 1 0 -6.4 0zM112.4 249.1a3.2 3.2 0 1 0 6.4 0a3.2 3.2 0 1 0 -6.4 0zM139.4 229.5a3.2 3.2 0 1 0 6.4 0a3.2 3.2 0 1 0 -6.4 0zM144.4 200.3a3.2 3.2 0 1 0 6.4 0a3.2 3.2 0 1 0 -6.4 0zM155.9 232.7a3.2 3.2 0 1 0 6.4 0a3.2 3.2 0 1 0 -6.4 0zM104.0 264.4a3.2 3.2 0 1 0 6.4 0a3.2 3.2 0 1 0 -6.4 0zM213.8 182.3a3.2 3.2 0 1 0 6.4 0a3.2 3.2 0 1 0 -6.4 0zM116.9 246.2a3.2 3.2 0 1 0 6.4 0a3.2 3.2 0 1 0 -6.4 0zM119.3 251.5a3.2 3.2 0 1 0 6.4 0a3.2 3.2 0 1 0 -6.4 0zM112.2 252.8a3.2 3.2 0 1 0 6.4 0a3.2 3.2 0 1 0 -6.4 0zM78.8 273.9a3.2 3.2 0 1 0 6.4 0a3.2 3.2 0 1 0 -6.4 0zM133.6 232.3a3.2 3.2 0 1 0 6.4 0a3.2 3.2 0 1 0 -6.4 0zM173.8 214.3a3.2 3.2 0 1 0 6.4 0a3.2 3.2 0 1 0 -6.4 0zM165.3 199.4a3.2 3.2 0 1 0 6.4 0a3.2 3.2 0 1 0 -6.4 0zM102.7 257.5a3.2 3.2 0 1 0 6.4 0a3.2 3.2 0 1 0 -6.4 0zM91.4 273.1a3.2 3.2 0 1 0 6.4 0a3.2 3.2 0 1 0 -6.4 0zM121.5 227.8a3.2 3.2 0 1 0 6.4 0a3.2 3.2 0 1 0 -6.4 0zM173.2 200.9a3.2 3.2 0 1 0 6.4 0a3.2 3.2 0 1 0 -6.4 0zM140.6 198.6a3.2 3.2 0 1 0 6.4 0a3.2 3.2 0 1 0 -6.4 0zM201.8 197.7a3.2 3.2 0 1 0 6.4 0a3.2 3.2 0 1 0 -6.4 0zM158.9 207.7a3.2 3.2 0 1 0 6.4 0a3.2 3.2 0 1 0 -6.4 0zM154.8 203.6a3.2 3.2 0 1 0 6.4 0a3.2 3.2 0 1 0 -6.4 0zM173.2 201.0a3.2 3.2 0 1 0 6.4 0a3.2 3.2 0 1 0 -6.4 0zM170.7 213.1a3.2 3.2 0 1 0 6.4 0a3.2 3.2 0 1 0 -6.4 0zM124.5 237.4a3.2 3.2 0 1 0 6.4 0a3.2 3.2 0 1 0 -6.4 0zM112.3 248.2a3.2 3.2 0 1 0 6.4 0a3.2 3.2 0 1 0 -6.4 0zM135.2 212.4a3.2 3.2 0 1 0 6.4 0a3.2 3.2 0 1 0 -6.4 0zM140.7 213.8a3.2 3.2 0 1 0 6.4 0a3.2 3.2 0 1 0 -6.4 0zM92.3 261.3a3.2 3.2 0 1 0 6.4 0a3.2 3.2 0 1 0 -6.4 0zM135.6 231.8a3.2 3.2 0 1 0 6.4 0a3.2 3.2 0 1 0 -6.4 0zM156.9 202.6a3.2 3.2 0 1 0 6.4 0a3.2 3.2 0 1 0 -6.4 0zM91.1 266.2a3.2 3.2 0 1 0 6.4 0a3.2 3.2 0 1 0 -6.4 0zM91.6 274.3a3.2 3.2 0 1 0 6.4 0a3.2 3.2 0 1 0 -6.4 0zM98.7 265.9a3.2 3.2 0 1 0 6.4 0a3.2 3.2 0 1 0 -6.4 0zM116.1 248.1a3.2 3.2 0 1 0 6.4 0a3.2 3.2 0 1 0 -6.4 0zM213.6 191.2a3.2 3.2 0 1 0 6.4 0a3.2 3.2 0 1 0 -6.4 0zM71.8 283.8a3.2 3.2 0 1 0 6.4 0a3.2 3.2 0 1 0 -6.4 0zM100.6 258.6a3.2 3.2 0 1 0 6.4 0a3.2 3.2 0 1 0 -6.4 0zM97.0 267.9a3.2 3.2 0 1 0 6.4 0a3.2 3.2 0 1 0 -6.4 0zM139.2 229.8a3.2 3.2 0 1 0 6.4 0a3.2 3.2 0 1 0 -6.4 0zM69.8 286.9a3.2 3.2 0 1 0 6.4 0a3.2 3.2 0 1 0 -6.4 0zM137.5 229.7a3.2 3.2 0 1 0 6.4 0a3.2 3.2 0 1 0 -6.4 0zM96.5 264.6a3.2 3.2 0 1 0 6.4 0a3.2 3.2 0 1 0 -6.4 0zM114.1 250.2a3.2 3.2 0 1 0 6.4 0a3.2 3.2 0 1 0 -6.4 0zM176.9 199.8a3.2 3.2 0 1 0 6.4 0a3.2 3.2 0 1 0 -6.4 0zM100.7 266.8a3.2 3.2 0 1 0 6.4 0a3.2 3.2 0 1 0 -6.4 0zM154.4 206.0a3.2 3.2 0 1 0 6.4 0a3.2 3.2 0 1 0 -6.4 0zM131.8 223.0a3.2 3.2 0 1 0 6.4 0a3.2 3.2 0 1 0 -6.4 0zM133.1 217.3a3.2 3.2 0 1 0 6.4 0a3.2 3.2 0 1 0 -6.4 0zM181.0 201.1a3.2 3.2 0 1 0 6.4 0a3.2 3.2 0 1 0 -6.4 0zM96.1 257.9a3.2 3.2 0 1 0 6.4 0a3.2 3.2 0 1 0 -6.4 0zM201.9 184.0a3.2 3.2 0 1 0 6.4 0a3.2 3.2 0 1 0 -6.4 0zM195.4 188.2a3.2 3.2 0 1 0 6.4 0a3.2 3.2 0 1 0 -6.4 0zM160.3 185.3a3.2 3.2 0 1 0 6.4 0a3.2 3.2 0 1 0 -6.4 0zM75.8 288.9a3.2 3.2 0 1 0 6.4 0a3.2 3.2 0 1 0 -6.4 0zM159.7 192.4a3.2 3.2 0 1 0 6.4 0a3.2 3.2 0 1 0 -6.4 0zM152.5 194.4a3.2 3.2 0 1 0 6.4 0a3.2 3.2 0 1 0 -6.4 0zM173.8 190.3a3.2 3.2 0 1 0 6.4 0a3.2 3.2 0 1 0 -6.4 0zM105.8 248.7a3.2 3.2 0 1 0 6.4 0a3.2 3.2 0 1 0 -6.4 0zM210.5 183.8a3.2 3.2 0 1 0 6.4 0a3.2 3.2 0 1 0 -6.4 0zM194.0 193.7a3.2 3.2 0 1 0 6.4 0a3.2 3.2 0 1 0 -6.4 0zM87.0 272.7a3.2 3.2 0 1 0 6.4 0a3.2 3.2 0 1 0 -6.4 0zM120.6 230.0a3.2 3.2 0 1 0 6.4 0a3.2 3.2 0 1 0 -6.4 0zM73.0 280.9a3.2 3.2 0 1 0 6.4 0a3.2 3.2 0 1 0 -6.4 0zM183.5 206.8a3.2 3.2 0 1 0 6.4 0a3.2 3.2 0 1 0 -6.4 0zM199.9 175.2a3.2 3.2 0 1 0 6.4 0a3.2 3.2 0 1 0 -6.4 0zM231.3 186.0a3.2 3.2 0 1 0 6.4 0a3.2 3.2 0 1 0 -6.4 0zM153.8 225.6a3.2 3.2 0 1 0 6.4 0a3.2 3.2 0 1 0 -6.4 0zM160.0 197.6a3.2 3.2 0 1 0 6.4 0a3.2 3.2 0 1 0 -6.4 0zM161.5 222.6a3.2 3.2 0 1 0 6.4 0a3.2 3.2 0 1 0 -6.4 0zM149.2 217.0a3.2 3.2 0 1 0 6.4 0a3.2 3.2 0 1 0 -6.4 0zM210.1 193.6a3.2 3.2 0 1 0 6.4 0a3.2 3.2 0 1 0 -6.4 0zM153.3 234.3a3.2 3.2 0 1 0 6.4 0a3.2 3.2 0 1 0 -6.4 0zM123.4 228.1a3.2 3.2 0 1 0 6.4 0a3.2 3.2 0 1 0 -6.4 0zM143.2 210.9a3.2 3.2 0 1 0 6.4 0a3.2 3.2 0 1 0 -6.4 0zM70.5 293.8a3.2 3.2 0 1 0 6.4 0a3.2 3.2 0 1 0 -6.4 0zM167.2 186.8a3.2 3.2 0 1 0 6.4 0a3.2 3.2 0 1 0 -6.4 0zM163.4 208.8a3.2 3.2 0 1 0 6.4 0a3.2 3.2 0 1 0 -6.4 0zM133.4 232.3a3.2 3.2 0 1 0 6.4 0a3.2 3.2 0 1 0 -6.4 0zM187.3 182.0a3.2 3.2 0 1 0 6.4 0a3.2 3.2 0 1 0 -6.4 0zM171.4 207.0a3.2 3.2 0 1 0 6.4 0a3.2 3.2 0 1 0 -6.4 0zM123.5 236.4a3.2 3.2 0 1 0 6.4 0a3.2 3.2 0 1 0 -6.4 0zM80.4 278.8a3.2 3.2 0 1 0 6.4 0a3.2 3.2 0 1 0 -6.4 0zM90.4 268.8a3.2 3.2 0 1 0 6.4 0a3.2 3.2 0 1 0 -6.4 0zM100.7 258.9a3.2 3.2 0 1 0 6.4 0a3.2 3.2 0 1 0 -6.4 0zM119.0 239.1a3.2 3.2 0 1 0 6.4 0a3.2 3.2 0 1 0 -6.4 0zM136.3 209.5a3.2 3.2 0 1 0 6.4 0a3.2 3.2 0 1 0 -6.4 0zM203.0 178.0a3.2 3.2 0 1 0 6.4 0a3.2 3.2 0 1 0 -6.4 0zM115.4 252.7a3.2 3.2 0 1 0 6.4 0a3.2 3.2 0 1 0 -6.4 0zM196.5 180.2a3.2 3.2 0 1 0 6.4 0a3.2 3.2 0 1 0 -6.4 0zM161.7 218.1a3.2 3.2 0 1 0 6.4 0a3.2 3.2 0 1 0 -6.4 0zM187.6 202.9a3.2 3.2 0 1 0 6.4 0a3.2 3.2 0 1 0 -6.4 0zM131.5 243.7a3.2 3.2 0 1 0 6.4 0a3.2 3.2 0 1 0 -6.4 0zM66.9 291.8a3.2 3.2 0 1 0 6.4 0a3.2 3.2 0 1 0 -6.4 0zM176.0 202.4a3.2 3.2 0 1 0 6.4 0a3.2 3.2 0 1 0 -6.4 0zM110.6 235.7a3.2 3.2 0 1 0 6.4 0a3.2 3.2 0 1 0 -6.4 0zM92.5 260.8a3.2 3.2 0 1 0 6.4 0a3.2 3.2 0 1 0 -6.4 0zM178.0 194.2a3.2 3.2 0 1 0 6.4 0a3.2 3.2 0 1 0 -6.4 0zM162.4 212.2a3.2 3.2 0 1 0 6.4 0a3.2 3.2 0 1 0 -6.4 0zM105.6 249.4a3.2 3.2 0 1 0 6.4 0a3.2 3.2 0 1 0 -6.4 0zM113.8 244.9a3.2 3.2 0 1 0 6.4 0a3.2 3.2 0 1 0 -6.4 0zM206.0 181.4a3.2 3.2 0 1 0 6.4 0a3.2 3.2 0 1 0 -6.4 0zM113.9 259.3a3.2 3.2 0 1 0 6.4 0a3.2 3.2 0 1 0 -6.4 0zM164.4 215.3a3.2 3.2 0 1 0 6.4 0a3.2 3.2 0 1 0 -6.4 0zM89.9 260.1a3.2 3.2 0 1 0 6.4 0a3.2 3.2 0 1 0 -6.4 0zM180.6 210.3a3.2 3.2 0 1 0 6.4 0a3.2 3.2 0 1 0 -6.4 0zM87.6 270.0a3.2 3.2 0 1 0 6.4 0a3.2 3.2 0 1 0 -6.4 0zM143.5 212.7a3.2 3.2 0 1 0 6.4 0a3.2 3.2 0 1 0 -6.4 0zM73.4 288.9a3.2 3.2 0 1 0 6.4 0a3.2 3.2 0 1 0 -6.4 0zM147.1 235.1a3.2 3.2 0 1 0 6.4 0a3.2 3.2 0 1 0 -6.4 0zM186.3 209.6a3.2 3.2 0 1 0 6.4 0a3.2 3.2 0 1 0 -6.4 0zM81.6 282.8a3.2 3.2 0 1 0 6.4 0a3.2 3.2 0 1 0 -6.4 0zM114.8 243.5a3.2 3.2 0 1 0 6.4 0a3.2 3.2 0 1 0 -6.4 0zM172.7 179.0a3.2 3.2 0 1 0 6.4 0a3.2 3.2 0 1 0 -6.4 0zM153.4 215.8a3.2 3.2 0 1 0 6.4 0a3.2 3.2 0 1 0 -6.4 0zM120.3 231.6a3.2 3.2 0 1 0 6.4 0a3.2 3.2 0 1 0 -6.4 0zM155.7 210.3a3.2 3.2 0 1 0 6.4 0a3.2 3.2 0 1 0 -6.4 0zM137.1 213.9a3.2 3.2 0 1 0 6.4 0a3.2 3.2 0 1 0 -6.4 0zM189.3 182.2a3.2 3.2 0 1 0 6.4 0a3.2 3.2 0 1 0 -6.4 0zM117.5 233.8a3.2 3.2 0 1 0 6.4 0a3.2 3.2 0 1 0 -6.4 0zM171.7 198.6a3.2 3.2 0 1 0 6.4 0a3.2 3.2 0 1 0 -6.4 0zM156.5 225.7a3.2 3.2 0 1 0 6.4 0a3.2 3.2 0 1 0 -6.4 0zM169.3 209.7a3.2 3.2 0 1 0 6.4 0a3.2 3.2 0 1 0 -6.4 0zM128.7 207.5a3.2 3.2 0 1 0 6.4 0a3.2 3.2 0 1 0 -6.4 0zM167.3 191.2a3.2 3.2 0 1 0 6.4 0a3.2 3.2 0 1 0 -6.4 0zM163.9 215.2a3.2 3.2 0 1 0 6.4 0a3.2 3.2 0 1 0 -6.4 0zM129.7 212.9a3.2 3.2 0 1 0 6.4 0a3.2 3.2 0 1 0 -6.4 0zM71.9 291.2a3.2 3.2 0 1 0 6.4 0a3.2 3.2 0 1 0 -6.4 0zM214.1 179.9a3.2 3.2 0 1 0 6.4 0a3.2 3.2 0 1 0 -6.4 0zM165.8 206.6a3.2 3.2 0 1 0 6.4 0a3.2 3.2 0 1 0 -6.4 0zM104.3 263.5a3.2 3.2 0 1 0 6.4 0a3.2 3.2 0 1 0 -6.4 0zM168.0 195.3a3.2 3.2 0 1 0 6.4 0a3.2 3.2 0 1 0 -6.4 0zM115.4 250.7a3.2 3.2 0 1 0 6.4 0a3.2 3.2 0 1 0 -6.4 0zM138.6 230.6a3.2 3.2 0 1 0 6.4 0a3.2 3.2 0 1 0 -6.4 0zM188.8 200.7a3.2 3.2 0 1 0 6.4 0a3.2 3.2 0 1 0 -6.4 0zM136.4 204.4a3.2 3.2 0 1 0 6.4 0a3.2 3.2 0 1 0 -6.4 0zM116.8 236.1a3.2 3.2 0 1 0 6.4 0a3.2 3.2 0 1 0 -6.4 0zM119.3 241.0a3.2 3.2 0 1 0 6.4 0a3.2 3.2 0 1 0 -6.4 0zM80.3 272.5a3.2 3.2 0 1 0 6.4 0a3.2 3.2 0 1 0 -6.4 0zM106.7 250.3a3.2 3.2 0 1 0 6.4 0a3.2 3.2 0 1 0 -6.4 0zM114.3 227.3a3.2 3.2 0 1 0 6.4 0a3.2 3.2 0 1 0 -6.4 0zM98.5 254.3a3.2 3.2 0 1 0 6.4 0a3.2 3.2 0 1 0 -6.4 0zM78.0 284.6a3.2 3.2 0 1 0 6.4 0a3.2 3.2 0 1 0 -6.4 0zM138.3 210.5a3.2 3.2 0 1 0 6.4 0a3.2 3.2 0 1 0 -6.4 0zM105.9 254.2a3.2 3.2 0 1 0 6.4 0a3.2 3.2 0 1 0 -6.4 0zM169.1 181.1a3.2 3.2 0 1 0 6.4 0a3.2 3.2 0 1 0 -6.4 0zM201.6 193.8a3.2 3.2 0 1 0 6.4 0a3.2 3.2 0 1 0 -6.4 0zM114.6 240.6a3.2 3.2 0 1 0 6.4 0a3.2 3.2 0 1 0 -6.4 0zM149.5 218.0a3.2 3.2 0 1 0 6.4 0a3.2 3.2 0 1 0 -6.4 0zM142.6 229.7a3.2 3.2 0 1 0 6.4 0a3.2 3.2 0 1 0 -6.4 0zM80.0 277.4a3.2 3.2 0 1 0 6.4 0a3.2 3.2 0 1 0 -6.4 0zM89.0 268.3a3.2 3.2 0 1 0 6.4 0a3.2 3.2 0 1 0 -6.4 0zM193.7 206.2a3.2 3.2 0 1 0 6.4 0a3.2 3.2 0 1 0 -6.4 0zM139.2 215.8a3.2 3.2 0 1 0 6.4 0a3.2 3.2 0 1 0 -6.4 0zM178.9 183.1a3.2 3.2 0 1 0 6.4 0a3.2 3.2 0 1 0 -6.4 0zM78.6 275.5a3.2 3.2 0 1 0 6.4 0a3.2 3.2 0 1 0 -6.4 0zM151.9 191.9a3.2 3.2 0 1 0 6.4 0a3.2 3.2 0 1 0 -6.4 0zM189.9 181.6a3.2 3.2 0 1 0 6.4 0a3.2 3.2 0 1 0 -6.4 0zM190.2 193.0a3.2 3.2 0 1 0 6.4 0a3.2 3.2 0 1 0 -6.4 0zM67.7 291.7a3.2 3.2 0 1 0 6.4 0a3.2 3.2 0 1 0 -6.4 0zM144.1 238.0a3.2 3.2 0 1 0 6.4 0a3.2 3.2 0 1 0 -6.4 0zM127.6 240.8a3.2 3.2 0 1 0 6.4 0a3.2 3.2 0 1 0 -6.4 0zM172.0 185.3a3.2 3.2 0 1 0 6.4 0a3.2 3.2 0 1 0 -6.4 0zM79.7 279.5a3.2 3.2 0 1 0 6.4 0a3.2 3.2 0 1 0 -6.4 0zM113.4 248.0a3.2 3.2 0 1 0 6.4 0a3.2 3.2 0 1 0 -6.4 0zM180.2 194.7a3.2 3.2 0 1 0 6.4 0a3.2 3.2 0 1 0 -6.4 0zM138.7 202.8a3.2 3.2 0 1 0 6.4 0a3.2 3.2 0 1 0 -6.4 0zM136.9 221.1a3.2 3.2 0 1 0 6.4 0a3.2 3.2 0 1 0 -6.4 0zM216.7 179.1a3.2 3.2 0 1 0 6.4 0a3.2 3.2 0 1 0 -6.4 0zM121.3 224.8a3.2 3.2 0 1 0 6.4 0a3.2 3.2 0 1 0 -6.4 0zM74.6 281.0a3.2 3.2 0 1 0 6.4 0a3.2 3.2 0 1 0 -6.4 0zM130.2 236.8a3.2 3.2 0 1 0 6.4 0a3.2 3.2 0 1 0 -6.4 0zM94.6 266.1a3.2 3.2 0 1 0 6.4 0a3.2 3.2 0 1 0 -6.4 0zM81.2 268.3a3.2 3.2 0 1 0 6.4 0a3.2 3.2 0 1 0 -6.4 0zM149.0 215.1a3.2 3.2 0 1 0 6.4 0a3.2 3.2 0 1 0 -6.4 0zM210.5 176.3a3.2 3.2 0 1 0 6.4 0a3.2 3.2 0 1 0 -6.4 0zM150.2 191.7a3.2 3.2 0 1 0 6.4 0a3.2 3.2 0 1 0 -6.4 0zM157.8 219.5a3.2 3.2 0 1 0 6.4 0a3.2 3.2 0 1 0 -6.4 0zM121.8 250.8a3.2 3.2 0 1 0 6.4 0a3.2 3.2 0 1 0 -6.4 0zM149.3 198.3a3.2 3.2 0 1 0 6.4 0a3.2 3.2 0 1 0 -6.4 0zM170.9 206.9a3.2 3.2 0 1 0 6.4 0a3.2 3.2 0 1 0 -6.4 0zM151.3 192.5a3.2 3.2 0 1 0 6.4 0a3.2 3.2 0 1 0 -6.4 0zM178.6 207.5a3.2 3.2 0 1 0 6.4 0a3.2 3.2 0 1 0 -6.4 0zM147.1 228.7a3.2 3.2 0 1 0 6.4 0a3.2 3.2 0 1 0 -6.4 0zM103.2 258.8a3.2 3.2 0 1 0 6.4 0a3.2 3.2 0 1 0 -6.4 0zM150.6 223.4a3.2 3.2 0 1 0 6.4 0a3.2 3.2 0 1 0 -6.4 0zM140.9 224.7a3.2 3.2 0 1 0 6.4 0a3.2 3.2 0 1 0 -6.4 0zM97.1 257.2a3.2 3.2 0 1 0 6.4 0a3.2 3.2 0 1 0 -6.4 0zM154.6 204.3a3.2 3.2 0 1 0 6.4 0a3.2 3.2 0 1 0 -6.4 0zM181.0 181.9a3.2 3.2 0 1 0 6.4 0a3.2 3.2 0 1 0 -6.4 0zM91.0 277.3a3.2 3.2 0 1 0 6.4 0a3.2 3.2 0 1 0 -6.4 0zM146.6 216.6a3.2 3.2 0 1 0 6.4 0a3.2 3.2 0 1 0 -6.4 0zM168.4 208.8a3.2 3.2 0 1 0 6.4 0a3.2 3.2 0 1 0 -6.4 0zM131.4 213.9a3.2 3.2 0 1 0 6.4 0a3.2 3.2 0 1 0 -6.4 0zM114.2 252.2a3.2 3.2 0 1 0 6.4 0a3.2 3.2 0 1 0 -6.4 0zM128.0 220.5a3.2 3.2 0 1 0 6.4 0a3.2 3.2 0 1 0 -6.4 0zM146.2 206.0a3.2 3.2 0 1 0 6.4 0a3.2 3.2 0 1 0 -6.4 0zM162.5 208.0a3.2 3.2 0 1 0 6.4 0a3.2 3.2 0 1 0 -6.4 0zM148.1 210.4a3.2 3.2 0 1 0 6.4 0a3.2 3.2 0 1 0 -6.4 0zM85.6 273.7a3.2 3.2 0 1 0 6.4 0a3.2 3.2 0 1 0 -6.4 0zM181.1 182.3a3.2 3.2 0 1 0 6.4 0a3.2 3.2 0 1 0 -6.4 0zM202.0 184.9a3.2 3.2 0 1 0 6.4 0a3.2 3.2 0 1 0 -6.4 0zM84.6 268.2a3.2 3.2 0 1 0 6.4 0a3.2 3.2 0 1 0 -6.4 0zM111.2 262.4a3.2 3.2 0 1 0 6.4 0a3.2 3.2 0 1 0 -6.4 0zM98.7 260.3a3.2 3.2 0 1 0 6.4 0a3.2 3.2 0 1 0 -6.4 0zM186.8 189.1a3.2 3.2 0 1 0 6.4 0a3.2 3.2 0 1 0 -6.4 0zM198.9 181.2a3.2 3.2 0 1 0 6.4 0a3.2 3.2 0 1 0 -6.4 0zM75.0 276.2a3.2 3.2 0 1 0 6.4 0a3.2 3.2 0 1 0 -6.4 0zM123.0 235.1a3.2 3.2 0 1 0 6.4 0a3.2 3.2 0 1 0 -6.4 0zM102.2 264.7a3.2 3.2 0 1 0 6.4 0a3.2 3.2 0 1 0 -6.4 0zM138.7 227.9a3.2 3.2 0 1 0 6.4 0a3.2 3.2 0 1 0 -6.4 0zM201.4 193.9a3.2 3.2 0 1 0 6.4 0a3.2 3.2 0 1 0 -6.4 0zM79.2 270.9a3.2 3.2 0 1 0 6.4 0a3.2 3.2 0 1 0 -6.4 0zM98.2 265.7a3.2 3.2 0 1 0 6.4 0a3.2 3.2 0 1 0 -6.4 0zM140.5 227.4a3.2 3.2 0 1 0 6.4 0a3.2 3.2 0 1 0 -6.4 0zM144.4 216.6a3.2 3.2 0 1 0 6.4 0a3.2 3.2 0 1 0 -6.4 0zM170.0 186.2a3.2 3.2 0 1 0 6.4 0a3.2 3.2 0 1 0 -6.4 0zM135.2 238.0a3.2 3.2 0 1 0 6.4 0a3.2 3.2 0 1 0 -6.4 0zM92.2 266.2a3.2 3.2 0 1 0 6.4 0a3.2 3.2 0 1 0 -6.4 0zM125.7 219.2a3.2 3.2 0 1 0 6.4 0a3.2 3.2 0 1 0 -6.4 0zM224.5 177.2a3.2 3.2 0 1 0 6.4 0a3.2 3.2 0 1 0 -6.4 0zM170.7 212.7a3.2 3.2 0 1 0 6.4 0a3.2 3.2 0 1 0 -6.4 0zM87.4 264.8a3.2 3.2 0 1 0 6.4 0a3.2 3.2 0 1 0 -6.4 0zM179.5 179.2a3.2 3.2 0 1 0 6.4 0a3.2 3.2 0 1 0 -6.4 0zM120.0 249.3a3.2 3.2 0 1 0 6.4 0a3.2 3.2 0 1 0 -6.4 0zM175.2 189.2a3.2 3.2 0 1 0 6.4 0a3.2 3.2 0 1 0 -6.4 0zM69.3 288.4a3.2 3.2 0 1 0 6.4 0a3.2 3.2 0 1 0 -6.4 0zM191.0 195.8a3.2 3.2 0 1 0 6.4 0a3.2 3.2 0 1 0 -6.4 0zM96.4 255.0a3.2 3.2 0 1 0 6.4 0a3.2 3.2 0 1 0 -6.4 0zM137.2 229.3a3.2 3.2 0 1 0 6.4 0a3.2 3.2 0 1 0 -6.4 0zM159.5 210.7a3.2 3.2 0 1 0 6.4 0a3.2 3.2 0 1 0 -6.4 0zM142.7 224.7a3.2 3.2 0 1 0 6.4 0a3.2 3.2 0 1 0 -6.4 0zM97.0 266.2a3.2 3.2 0 1 0 6.4 0a3.2 3.2 0 1 0 -6.4 0zM91.8 265.9a3.2 3.2 0 1 0 6.4 0a3.2 3.2 0 1 0 -6.4 0zM116.3 251.2a3.2 3.2 0 1 0 6.4 0a3.2 3.2 0 1 0 -6.4 0zM76.3 289.5a3.2 3.2 0 1 0 6.4 0a3.2 3.2 0 1 0 -6.4 0zM106.2 257.9a3.2 3.2 0 1 0 6.4 0a3.2 3.2 0 1 0 -6.4 0zM90.0 272.3a3.2 3.2 0 1 0 6.4 0a3.2 3.2 0 1 0 -6.4 0zM138.2 237.0a3.2 3.2 0 1 0 6.4 0a3.2 3.2 0 1 0 -6.4 0zM126.1 216.8a3.2 3.2 0 1 0 6.4 0a3.2 3.2 0 1 0 -6.4 0zM151.0 212.5a3.2 3.2 0 1 0 6.4 0a3.2 3.2 0 1 0 -6.4 0zM115.7 252.3a3.2 3.2 0 1 0 6.4 0a3.2 3.2 0 1 0 -6.4 0zM73.2 290.8a3.2 3.2 0 1 0 6.4 0a3.2 3.2 0 1 0 -6.4 0zM122.8 234.0a3.2 3.2 0 1 0 6.4 0a3.2 3.2 0 1 0 -6.4 0zM171.4 202.1a3.2 3.2 0 1 0 6.4 0a3.2 3.2 0 1 0 -6.4 0zM112.1 238.0a3.2 3.2 0 1 0 6.4 0a3.2 3.2 0 1 0 -6.4 0zM131.6 245.9a3.2 3.2 0 1 0 6.4 0a3.2 3.2 0 1 0 -6.4 0zM171.3 197.1a3.2 3.2 0 1 0 6.4 0a3.2 3.2 0 1 0 -6.4 0zM131.8 223.3a3.2 3.2 0 1 0 6.4 0a3.2 3.2 0 1 0 -6.4 0zM194.1 200.1a3.2 3.2 0 1 0 6.4 0a3.2 3.2 0 1 0 -6.4 0zM200.6 200.8a3.2 3.2 0 1 0 6.4 0a3.2 3.2 0 1 0 -6.4 0zM120.0 232.4a3.2 3.2 0 1 0 6.4 0a3.2 3.2 0 1 0 -6.4 0zM168.7 208.9a3.2 3.2 0 1 0 6.4 0a3.2 3.2 0 1 0 -6.4 0zM111.7 239.7a3.2 3.2 0 1 0 6.4 0a3.2 3.2 0 1 0 -6.4 0zM91.9 275.2a3.2 3.2 0 1 0 6.4 0a3.2 3.2 0 1 0 -6.4 0zM135.3 203.4a3.2 3.2 0 1 0 6.4 0a3.2 3.2 0 1 0 -6.4 0zM152.7 216.7a3.2 3.2 0 1 0 6.4 0a3.2 3.2 0 1 0 -6.4 0zM205.0 190.7a3.2 3.2 0 1 0 6.4 0a3.2 3.2 0 1 0 -6.4 0zM93.1 274.3a3.2 3.2 0 1 0 6.4 0a3.2 3.2 0 1 0 -6.4 0zM165.7 199.3a3.2 3.2 0 1 0 6.4 0a3.2 3.2 0 1 0 -6.4 0zM139.3 236.7a3.2 3.2 0 1 0 6.4 0a3.2 3.2 0 1 0 -6.4 0zM90.3 264.8a3.2 3.2 0 1 0 6.4 0a3.2 3.2 0 1 0 -6.4 0zM218.7 180.7a3.2 3.2 0 1 0 6.4 0a3.2 3.2 0 1 0 -6.4 0zM163.6 219.4a3.2 3.2 0 1 0 6.4 0a3.2 3.2 0 1 0 -6.4 0zM89.8 272.6a3.2 3.2 0 1 0 6.4 0a3.2 3.2 0 1 0 -6.4 0zM197.9 182.4a3.2 3.2 0 1 0 6.4 0a3.2 3.2 0 1 0 -6.4 0zM84.9 270.7a3.2 3.2 0 1 0 6.4 0a3.2 3.2 0 1 0 -6.4 0zM83.0 274.4a3.2 3.2 0 1 0 6.4 0a3.2 3.2 0 1 0 -6.4 0zM122.9 224.8a3.2 3.2 0 1 0 6.4 0a3.2 3.2 0 1 0 -6.4 0zM205.6 184.3a3.2 3.2 0 1 0 6.4 0a3.2 3.2 0 1 0 -6.4 0zM73.1 291.5a3.2 3.2 0 1 0 6.4 0a3.2 3.2 0 1 0 -6.4 0zM200.6 185.0a3.2 3.2 0 1 0 6.4 0a3.2 3.2 0 1 0 -6.4 0zM153.8 220.0a3.2 3.2 0 1 0 6.4 0a3.2 3.2 0 1 0 -6.4 0zM78.7 274.1a3.2 3.2 0 1 0 6.4 0a3.2 3.2 0 1 0 -6.4 0zM149.1 188.8a3.2 3.2 0 1 0 6.4 0a3.2 3.2 0 1 0 -6.4 0zM137.5 239.4a3.2 3.2 0 1 0 6.4 0a3.2 3.2 0 1 0 -6.4 0zM148.6 197.3a3.2 3.2 0 1 0 6.4 0a3.2 3.2 0 1 0 -6.4 0zM168.9 218.5a3.2 3.2 0 1 0 6.4 0a3.2 3.2 0 1 0 -6.4 0zM161.5 194.5a3.2 3.2 0 1 0 6.4 0a3.2 3.2 0 1 0 -6.4 0zM243.4 181.7a3.2 3.2 0 1 0 6.4 0a3.2 3.2 0 1 0 -6.4 0zM95.3 271.5a3.2 3.2 0 1 0 6.4 0a3.2 3.2 0 1 0 -6.4 0zM180.3 189.1a3.2 3.2 0 1 0 6.4 0a3.2 3.2 0 1 0 -6.4 0zM132.3 225.2a3.2 3.2 0 1 0 6.4 0a3.2 3.2 0 1 0 -6.4 0zM175.5 185.4a3.2 3.2 0 1 0 6.4 0a3.2 3.2 0 1 0 -6.4 0zM195.1 180.6a3.2 3.2 0 1 0 6.4 0a3.2 3.2 0 1 0 -6.4 0zM234.0 182.4a3.2 3.2 0 1 0 6.4 0a3.2 3.2 0 1 0 -6.4 0zM113.6 248.5a3.2 3.2 0 1 0 6.4 0a3.2 3.2 0 1 0 -6.4 0zM136.9 207.6a3.2 3.2 0 1 0 6.4 0a3.2 3.2 0 1 0 -6.4 0zM207.0 180.6a3.2 3.2 0 1 0 6.4 0a3.2 3.2 0 1 0 -6.4 0zM207.9 184.6a3.2 3.2 0 1 0 6.4 0a3.2 3.2 0 1 0 -6.4 0zM128.0 242.4a3.2 3.2 0 1 0 6.4 0a3.2 3.2 0 1 0 -6.4 0zM206.3 185.3a3.2 3.2 0 1 0 6.4 0a3.2 3.2 0 1 0 -6.4 0zM131.8 206.6a3.2 3.2 0 1 0 6.4 0a3.2 3.2 0 1 0 -6.4 0zM128.2 221.3a3.2 3.2 0 1 0 6.4 0a3.2 3.2 0 1 0 -6.4 0zM171.6 179.9a3.2 3.2 0 1 0 6.4 0a3.2 3.2 0 1 0 -6.4 0zM138.8 212.6a3.2 3.2 0 1 0 6.4 0a3.2 3.2 0 1 0 -6.4 0zM136.4 210.7a3.2 3.2 0 1 0 6.4 0a3.2 3.2 0 1 0 -6.4 0zM129.5 224.3a3.2 3.2 0 1 0 6.4 0a3.2 3.2 0 1 0 -6.4 0zM134.7 214.9a3.2 3.2 0 1 0 6.4 0a3.2 3.2 0 1 0 -6.4 0zM91.9 261.3a3.2 3.2 0 1 0 6.4 0a3.2 3.2 0 1 0 -6.4 0zM77.7 284.6a3.2 3.2 0 1 0 6.4 0a3.2 3.2 0 1 0 -6.4 0zM171.2 215.0a3.2 3.2 0 1 0 6.4 0a3.2 3.2 0 1 0 -6.4 0zM148.6 214.1a3.2 3.2 0 1 0 6.4 0a3.2 3.2 0 1 0 -6.4 0zM160.7 203.7a3.2 3.2 0 1 0 6.4 0a3.2 3.2 0 1 0 -6.4 0zM178.5 211.9a3.2 3.2 0 1 0 6.4 0a3.2 3.2 0 1 0 -6.4 0zM108.3 263.9a3.2 3.2 0 1 0 6.4 0a3.2 3.2 0 1 0 -6.4 0zM108.9 255.3a3.2 3.2 0 1 0 6.4 0a3.2 3.2 0 1 0 -6.4 0zM115.3 244.9a3.2 3.2 0 1 0 6.4 0a3.2 3.2 0 1 0 -6.4 0zM119.0 248.4a3.2 3.2 0 1 0 6.4 0a3.2 3.2 0 1 0 -6.4 0zM172.1 196.7a3.2 3.2 0 1 0 6.4 0a3.2 3.2 0 1 0 -6.4 0zM128.2 245.8a3.2 3.2 0 1 0 6.4 0a3.2 3.2 0 1 0 -6.4 0zM121.7 235.4a3.2 3.2 0 1 0 6.4 0a3.2 3.2 0 1 0 -6.4 0zM156.5 223.2a3.2 3.2 0 1 0 6.4 0a3.2 3.2 0 1 0 -6.4 0zM101.1 246.2a3.2 3.2 0 1 0 6.4 0a3.2 3.2 0 1 0 -6.4 0zM85.5 266.8a3.2 3.2 0 1 0 6.4 0a3.2 3.2 0 1 0 -6.4 0zM163.8 223.8a3.2 3.2 0 1 0 6.4 0a3.2 3.2 0 1 0 -6.4 0zM171.5 197.2a3.2 3.2 0 1 0 6.4 0a3.2 3.2 0 1 0 -6.4 0zM118.0 227.7a3.2 3.2 0 1 0 6.4 0a3.2 3.2 0 1 0 -6.4 0zM156.5 194.2a3.2 3.2 0 1 0 6.4 0a3.2 3.2 0 1 0 -6.4 0zM73.2 281.4a3.2 3.2 0 1 0 6.4 0a3.2 3.2 0 1 0 -6.4 0zM131.6 208.2a3.2 3.2 0 1 0 6.4 0a3.2 3.2 0 1 0 -6.4 0zM150.1 215.8a3.2 3.2 0 1 0 6.4 0a3.2 3.2 0 1 0 -6.4 0zM111.7 241.8a3.2 3.2 0 1 0 6.4 0a3.2 3.2 0 1 0 -6.4 0zM125.0 240.4a3.2 3.2 0 1 0 6.4 0a3.2 3.2 0 1 0 -6.4 0zM153.5 220.7a3.2 3.2 0 1 0 6.4 0a3.2 3.2 0 1 0 -6.4 0zM151.4 193.0a3.2 3.2 0 1 0 6.4 0a3.2 3.2 0 1 0 -6.4 0zM94.8 260.9a3.2 3.2 0 1 0 6.4 0a3.2 3.2 0 1 0 -6.4 0zM164.9 209.9a3.2 3.2 0 1 0 6.4 0a3.2 3.2 0 1 0 -6.4 0zM80.8 277.8a3.2 3.2 0 1 0 6.4 0a3.2 3.2 0 1 0 -6.4 0zM217.2 190.3a3.2 3.2 0 1 0 6.4 0a3.2 3.2 0 1 0 -6.4 0zM103.9 256.0a3.2 3.2 0 1 0 6.4 0a3.2 3.2 0 1 0 -6.4 0zM111.8 240.4a3.2 3.2 0 1 0 6.4 0a3.2 3.2 0 1 0 -6.4 0zM103.5 259.9a3.2 3.2 0 1 0 6.4 0a3.2 3.2 0 1 0 -6.4 0zM233.3 183.5a3.2 3.2 0 1 0 6.4 0a3.2 3.2 0 1 0 -6.4 0zM116.6 243.7a3.2 3.2 0 1 0 6.4 0a3.2 3.2 0 1 0 -6.4 0zM153.1 206.8a3.2 3.2 0 1 0 6.4 0a3.2 3.2 0 1 0 -6.4 0zM232.3 184.7a3.2 3.2 0 1 0 6.4 0a3.2 3.2 0 1 0 -6.4 0zM209.3 178.3a3.2 3.2 0 1 0 6.4 0a3.2 3.2 0 1 0 -6.4 0zM74.7 290.6a3.2 3.2 0 1 0 6.4 0a3.2 3.2 0 1 0 -6.4 0zM187.5 171.5a3.2 3.2 0 1 0 6.4 0a3.2 3.2 0 1 0 -6.4 0zM246.1 158.6a3.2 3.2 0 1 0 6.4 0a3.2 3.2 0 1 0 -6.4 0zM215.6 153.8a3.2 3.2 0 1 0 6.4 0a3.2 3.2 0 1 0 -6.4 0zM214.4 174.4a3.2 3.2 0 1 0 6.4 0a3.2 3.2 0 1 0 -6.4 0zM176.2 175.8a3.2 3.2 0 1 0 6.4 0a3.2 3.2 0 1 0 -6.4 0zM220.9 166.6a3.2 3.2 0 1 0 6.4 0a3.2 3.2 0 1 0 -6.4 0zM194.7 169.1a3.2 3.2 0 1 0 6.4 0a3.2 3.2 0 1 0 -6.4 0zM211.9 161.3a3.2 3.2 0 1 0 6.4 0a3.2 3.2 0 1 0 -6.4 0zM196.8 161.6a3.2 3.2 0 1 0 6.4 0a3.2 3.2 0 1 0 -6.4 0zM155.4 187.4a3.2 3.2 0 1 0 6.4 0a3.2 3.2 0 1 0 -6.4 0zM240.8 159.7a3.2 3.2 0 1 0 6.4 0a3.2 3.2 0 1 0 -6.4 0zM225.4 165.8a3.2 3.2 0 1 0 6.4 0a3.2 3.2 0 1 0 -6.4 0zM249.1 158.5a3.2 3.2 0 1 0 6.4 0a3.2 3.2 0 1 0 -6.4 0zM186.3 160.2a3.2 3.2 0 1 0 6.4 0a3.2 3.2 0 1 0 -6.4 0zM183.4 161.7a3.2 3.2 0 1 0 6.4 0a3.2 3.2 0 1 0 -6.4 0zM164.3 177.8a3.2 3.2 0 1 0 6.4 0a3.2 3.2 0 1 0 -6.4 0zM186.3 173.1a3.2 3.2 0 1 0 6.4 0a3.2 3.2 0 1 0 -6.4 0zM188.5 160.0a3.2 3.2 0 1 0 6.4 0a3.2 3.2 0 1 0 -6.4 0zM171.2 174.6a3.2 3.2 0 1 0 6.4 0a3.2 3.2 0 1 0 -6.4 0zM181.4 161.0a3.2 3.2 0 1 0 6.4 0a3.2 3.2 0 1 0 -6.4 0zM184.9 161.3a3.2 3.2 0 1 0 6.4 0a3.2 3.2 0 1 0 -6.4 0zM239.1 177.2a3.2 3.2 0 1 0 6.4 0a3.2 3.2 0 1 0 -6.4 0zM202.0 168.2a3.2 3.2 0 1 0 6.4 0a3.2 3.2 0 1 0 -6.4 0zM236.0 151.5a3.2 3.2 0 1 0 6.4 0a3.2 3.2 0 1 0 -6.4 0zM149.3 179.4a3.2 3.2 0 1 0 6.4 0a3.2 3.2 0 1 0 -6.4 0zM171.8 173.8a3.2 3.2 0 1 0 6.4 0a3.2 3.2 0 1 0 -6.4 0zM248.4 161.9a3.2 3.2 0 1 0 6.4 0a3.2 3.2 0 1 0 -6.4 0zM149.4 189.5a3.2 3.2 0 1 0 6.4 0a3.2 3.2 0 1 0 -6.4 0zM153.2 184.9a3.2 3.2 0 1 0 6.4 0a3.2 3.2 0 1 0 -6.4 0zM209.3 156.9a3.2 3.2 0 1 0 6.4 0a3.2 3.2 0 1 0 -6.4 0zM184.4 174.0a3.2 3.2 0 1 0 6.4 0a3.2 3.2 0 1 0 -6.4 0zM172.6 174.0a3.2 3.2 0 1 0 6.4 0a3.2 3.2 0 1 0 -6.4 0zM218.0 173.9a3.2 3.2 0 1 0 6.4 0a3.2 3.2 0 1 0 -6.4 0zM218.0 153.0a3.2 3.2 0 1 0 6.4 0a3.2 3.2 0 1 0 -6.4 0zM171.8 170.3a3.2 3.2 0 1 0 6.4 0a3.2 3.2 0 1 0 -6.4 0zM211.4 174.5a3.2 3.2 0 1 0 6.4 0a3.2 3.2 0 1 0 -6.4 0zM202.9 170.4a3.2 3.2 0 1 0 6.4 0a3.2 3.2 0 1 0 -6.4 0zM238.1 170.7a3.2 3.2 0 1 0 6.4 0a3.2 3.2 0 1 0 -6.4 0zM153.1 189.5a3.2 3.2 0 1 0 6.4 0a3.2 3.2 0 1 0 -6.4 0zM177.5 176.9a3.2 3.2 0 1 0 6.4 0a3.2 3.2 0 1 0 -6.4 0zM213.9 166.2a3.2 3.2 0 1 0 6.4 0a3.2 3.2 0 1 0 -6.4 0zM145.7 191.0a3.2 3.2 0 1 0 6.4 0a3.2 3.2 0 1 0 -6.4 0zM238.1 169.2a3.2 3.2 0 1 0 6.4 0a3.2 3.2 0 1 0 -6.4 0zM250.3 175.6a3.2 3.2 0 1 0 6.4 0a3.2 3.2 0 1 0 -6.4 0zM188.9 165.9a3.2 3.2 0 1 0 6.4 0a3.2 3.2 0 1 0 -6.4 0zM232.3 162.6a3.2 3.2 0 1 0 6.4 0a3.2 3.2 0 1 0 -6.4 0zM179.5 178.7a3.2 3.2 0 1 0 6.4 0a3.2 3.2 0 1 0 -6.4 0zM247.9 165.2a3.2 3.2 0 1 0 6.4 0a3.2 3.2 0 1 0 -6.4 0zM174.9 179.1a3.2 3.2 0 1 0 6.4 0a3.2 3.2 0 1 0 -6.4 0zM138.5 188.2a3.2 3.2 0 1 0 6.4 0a3.2 3.2 0 1 0 -6.4 0zM153.0 178.8a3.2 3.2 0 1 0 6.4 0a3.2 3.2 0 1 0 -6.4 0zM203.3 167.7a3.2 3.2 0 1 0 6.4 0a3.2 3.2 0 1 0 -6.4 0zM146.8 191.3a3.2 3.2 0 1 0 6.4 0a3.2 3.2 0 1 0 -6.4 0zM251.9 171.3a3.2 3.2 0 1 0 6.4 0a3.2 3.2 0 1 0 -6.4 0zM220.0 156.7a3.2 3.2 0 1 0 6.4 0a3.2 3.2 0 1 0 -6.4 0zM214.2 167.8a3.2 3.2 0 1 0 6.4 0a3.2 3.2 0 1 0 -6.4 0zM219.6 161.0a3.2 3.2 0 1 0 6.4 0a3.2 3.2 0 1 0 -6.4 0zM199.0 171.4a3.2 3.2 0 1 0 6.4 0a3.2 3.2 0 1 0 -6.4 0zM241.5 162.9a3.2 3.2 0 1 0 6.4 0a3.2 3.2 0 1 0 -6.4 0zM227.2 173.5a3.2 3.2 0 1 0 6.4 0a3.2 3.2 0 1 0 -6.4 0zM200.3 168.4a3.2 3.2 0 1 0 6.4 0a3.2 3.2 0 1 0 -6.4 0zM183.7 172.6a3.2 3.2 0 1 0 6.4 0a3.2 3.2 0 1 0 -6.4 0zM165.6 181.6a3.2 3.2 0 1 0 6.4 0a3.2 3.2 0 1 0 -6.4 0zM187.4 170.7a3.2 3.2 0 1 0 6.4 0a3.2 3.2 0 1 0 -6.4 0zM191.7 158.2a3.2 3.2 0 1 0 6.4 0a3.2 3.2 0 1 0 -6.4 0zM155.3 185.2a3.2 3.2 0 1 0 6.4 0a3.2 3.2 0 1 0 -6.4 0zM245.4 176.0a3.2 3.2 0 1 0 6.4 0a3.2 3.2 0 1 0 -6.4 0zM180.6 175.7a3.2 3.2 0 1 0 6.4 0a3.2 3.2 0 1 0 -6.4 0zM211.5 169.4a3.2 3.2 0 1 0 6.4 0a3.2 3.2 0 1 0 -6.4 0zM152.6 185.8a3.2 3.2 0 1 0 6.4 0a3.2 3.2 0 1 0 -6.4 0zM162.8 127.5a3.2 3.2 0 1 0 6.4 0a3.2 3.2 0 1 0 -6.4 0zM227.8 114.4a3.2 3.2 0 1 0 6.4 0a3.2 3.2 0 1 0 -6.4 0zM204.8 132.7a3.2 3.2 0 1 0 6.4 0a3.2 3.2 0 1 0 -6.4 0zM213.1 133.3a3.2 3.2 0 1 0 6.4 0a3.2 3.2 0 1 0 -6.4 0zM219.5 133.9a3.2 3.2 0 1 0 6.4 0a3.2 3.2 0 1 0 -6.4 0zM218.1 139.7a3.2 3.2 0 1 0 6.4 0a3.2 3.2 0 1 0 -6.4 0zM188.1 140.5a3.2 3.2 0 1 0 6.4 0a3.2 3.2 0 1 0 -6.4 0zM194.8 144.3a3.2 3.2 0 1 0 6.4 0a3.2 3.2 0 1 0 -6.4 0zM232.0 145.5a3.2 3.2 0 1 0 6.4 0a3.2 3.2 0 1 0 -6.4 0zM247.2 144.3a3.2 3.2 0 1 0 6.4 0a3.2 3.2 0 1 0 -6.4 0zM251.5 146.4a3.2 3.2 0 1 0 6.4 0a3.2 3.2 0 1 0 -6.4 0zM279.6 121.8a3.2 3.2 0 1 0 6.4 0a3.2 3.2 0 1 0 -6.4 0zM273.1 140.0a3.2 3.2 0 1 0 6.4 0a3.2 3.2 0 1 0 -6.4 0zM278.2 143.5a3.2 3.2 0 1 0 6.4 0a3.2 3.2 0 1 0 -6.4 0zM160.3 150.3a3.2 3.2 0 1 0 6.4 0a3.2 3.2 0 1 0 -6.4 0zM176.3 155.0a3.2 3.2 0 1 0 6.4 0a3.2 3.2 0 1 0 -6.4 0zM171.5 157.0a3.2 3.2 0 1 0 6.4 0a3.2 3.2 0 1 0 -6.4 0zM229.8 155.0a3.2 3.2 0 1 0 6.4 0a3.2 3.2 0 1 0 -6.4 0zM239.8 153.6a3.2 3.2 0 1 0 6.4 0a3.2 3.2 0 1 0 -6.4 0zM257.3 156.5a3.2 3.2 0 1 0 6.4 0a3.2 3.2 0 1 0 -6.4 0zM258.8 169.6a3.2 3.2 0 1 0 6.4 0a3.2 3.2 0 1 0 -6.4 0zM261.8 170.5a3.2 3.2 0 1 0 6.4 0a3.2 3.2 0 1 0 -6.4 0zM247.2 179.8a3.2 3.2 0 1 0 6.4 0a3.2 3.2 0 1 0 -6.4 0zM250.1 188.0a3.2 3.2 0 1 0 6.4 0a3.2 3.2 0 1 0 -6.4 0zM244.3 186.2a3.2 3.2 0 1 0 6.4 0a3.2 3.2 0 1 0 -6.4 0zM229.8 178.4a3.2 3.2 0 1 0 6.4 0a3.2 3.2 0 1 0 -6.4 0zM241.3 165.3a3.2 3.2 0 1 0 6.4 0a3.2 3.2 0 1 0 -6.4 0zM245.8 161.0a3.2 3.2 0 1 0 6.4 0a3.2 3.2 0 1 0 -6.4 0zM248.6 165.3a3.2 3.2 0 1 0 6.4 0a3.2 3.2 0 1 0 -6.4 0zM260.5 150.9a3.2 3.2 0 1 0 6.4 0a3.2 3.2 0 1 0 -6.4 0zM250.0 150.9a3.2 3.2 0 1 0 6.4 0a3.2 3.2 0 1 0 -6.4 0zM243.4 155.6a3.2 3.2 0 1 0 6.4 0a3.2 3.2 0 1 0 -6.4 0zM274.3 153.2a3.2 3.2 0 1 0 6.4 0a3.2 3.2 0 1 0 -6.4 0zM251.8 161.3a3.2 3.2 0 1 0 6.4 0a3.2 3.2 0 1 0 -6.4 0zM210.1 160.4a3.2 3.2 0 1 0 6.4 0a3.2 3.2 0 1 0 -6.4 0zM213.8 161.3a3.2 3.2 0 1 0 6.4 0a3.2 3.2 0 1 0 -6.4 0zM225.3 161.3a3.2 3.2 0 1 0 6.4 0a3.2 3.2 0 1 0 -6.4 0zM219.6 164.2a3.2 3.2 0 1 0 6.4 0a3.2 3.2 0 1 0 -6.4 0zM234.8 159.4a3.2 3.2 0 1 0 6.4 0a3.2 3.2 0 1 0 -6.4 0zM144.3 164.8a3.2 3.2 0 1 0 6.4 0a3.2 3.2 0 1 0 -6.4 0zM171.8 160.4a3.2 3.2 0 1 0 6.4 0a3.2 3.2 0 1 0 -6.4 0zM166.2 163.2a3.2 3.2 0 1 0 6.4 0a3.2 3.2 0 1 0 -6.4 0zM162.4 166.0a3.2 3.2 0 1 0 6.4 0a3.2 3.2 0 1 0 -6.4 0zM153.8 170.0a3.2 3.2 0 1 0 6.4 0a3.2 3.2 0 1 0 -6.4 0zM160.5 170.8a3.2 3.2 0 1 0 6.4 0a3.2 3.2 0 1 0 -6.4 0zM177.6 168.0a3.2 3.2 0 1 0 6.4 0a3.2 3.2 0 1 0 -6.4 0zM189.8 164.0a3.2 3.2 0 1 0 6.4 0a3.2 3.2 0 1 0 -6.4 0zM194.8 161.3a3.2 3.2 0 1 0 6.4 0a3.2 3.2 0 1 0 -6.4 0zM229.1 91.4a3.2 3.2 0 1 0 6.4 0a3.2 3.2 0 1 0 -6.4 0zM177.3 96.4a3.2 3.2 0 1 0 6.4 0a3.2 3.2 0 1 0 -6.4 0zM66.2 294.0a3.2 3.2 0 1 0 6.4 0a3.2 3.2 0 1 0 -6.4 0zM68.3 292.5a3.2 3.2 0 1 0 6.4 0a3.2 3.2 0 1 0 -6.4 0zM316.8 117.4a3.2 3.2 0 1 0 6.4 0a3.2 3.2 0 1 0 -6.4 0zM286.8 148.0a3.2 3.2 0 1 0 6.4 0a3.2 3.2 0 1 0 -6.4 0zM182.8 158.0a3.2 3.2 0 1 0 6.4 0a3.2 3.2 0 1 0 -6.4 0zM208.8 152.0a3.2 3.2 0 1 0 6.4 0a3.2 3.2 0 1 0 -6.4 0zM221.8 150.0a3.2 3.2 0 1 0 6.4 0a3.2 3.2 0 1 0 -6.4 0zM116.8 216.0a3.2 3.2 0 1 0 6.4 0a3.2 3.2 0 1 0 -6.4 0zM123.8 207.0a3.2 3.2 0 1 0 6.4 0a3.2 3.2 0 1 0 -6.4 0zM135.8 184.0a3.2 3.2 0 1 0 6.4 0a3.2 3.2 0 1 0 -6.4 0zM108.8 225.0a3.2 3.2 0 1 0 6.4 0a3.2 3.2 0 1 0 -6.4 0zM97.8 246.0a3.2 3.2 0 1 0 6.4 0a3.2 3.2 0 1 0 -6.4 0zM88.8 256.5a3.2 3.2 0 1 0 6.4 0a3.2 3.2 0 1 0 -6.4 0zM81.8 258.0a3.2 3.2 0 1 0 6.4 0a3.2 3.2 0 1 0 -6.4 0z" fill="none" stroke="#f9ab8b" stroke-width="1.3"/>
<path d="M235.7 216.5l3.5 6.6h-7.0zM250.8 206.7l3.5 6.6h-7.0zM158.7 252.7l3.5 6.6h-7.0zM248.7 212.6l3.5 6.6h-7.0zM125.1 268.1l3.5 6.6h-7.0zM161.0 253.6l3.5 6.6h-7.0zM160.9 251.4l3.5 6.6h-7.0zM134.0 266.7l3.5 6.6h-7.0zM166.4 250.5l3.5 6.6h-7.0zM204.5 232.3l3.5 6.6h-7.0zM115.1 273.2l3.5 6.6h-7.0zM166.0 248.4l3.5 6.6h-7.0zM171.9 245.2l3.5 6.6h-7.0zM127.3 269.6l3.5 6.6h-7.0zM187.7 241.2l3.5 6.6h-7.0zM135.0 267.0l3.5 6.6h-7.0zM178.0 243.3l3.5 6.6h-7.0zM178.1 244.8l3.5 6.6h-7.0zM203.9 226.7l3.5 6.6h-7.0zM246.2 197.6l3.5 6.6h-7.0zM243.0 207.9l3.5 6.6h-7.0zM168.8 247.3l3.5 6.6h-7.0zM136.4 261.2l3.5 6.6h-7.0zM133.6 262.1l3.5 6.6h-7.0zM210.2 230.1l3.5 6.6h-7.0zM205.7 228.4l3.5 6.6h-7.0zM211.5 222.2l3.5 6.6h-7.0zM218.7 229.7l3.5 6.6h-7.0zM177.2 245.4l3.5 6.6h-7.0zM233.7 216.0l3.5 6.6h-7.0zM189.9 240.0l3.5 6.6h-7.0zM186.2 238.4l3.5 6.6h-7.0zM219.4 227.9l3.5 6.6h-7.0zM189.1 234.6l3.5 6.6h-7.0zM207.0 226.0l3.5 6.6h-7.0zM244.3 211.5l3.5 6.6h-7.0zM154.4 254.1l3.5 6.6h-7.0zM204.2 234.4l3.5 6.6h-7.0zM141.3 258.6l3.5 6.6h-7.0zM166.7 248.1l3.5 6.6h-7.0zM227.3 221.3l3.5 6.6h-7.0zM264.8 204.8l3.5 6.6h-7.0zM251.3 212.4l3.5 6.6h-7.0zM205.3 232.0l3.5 6.6h-7.0zM221.7 228.1l3.5 6.6h-7.0zM230.1 217.0l3.5 6.6h-7.0zM183.2 242.4l3.5 6.6h-7.0zM133.7 267.3l3.5 6.6h-7.0zM102.4 280.8l3.5 6.6h-7.0zM205.9 230.1l3.5 6.6h-7.0zM205.7 229.5l3.5 6.6h-7.0zM201.0 231.3l3.5 6.6h-7.0zM179.2 240.7l3.5 6.6h-7.0zM190.0 237.1l3.5 6.6h-7.0zM199.0 229.4l3.5 6.6h-7.0zM172.8 247.8l3.5 6.6h-7.0zM190.1 233.9l3.5 6.6h-7.0zM131.1 270.0l3.5 6.6h-7.0zM173.1 249.5l3.5 6.6h-7.0zM185.8 242.5l3.5 6.6h-7.0zM177.7 244.2l3.5 6.6h-7.0zM135.6 263.8l3.5 6.6h-7.0zM117.7 275.4l3.5 6.6h-7.0zM189.5 239.4l3.5 6.6h-7.0zM115.7 275.6l3.5 6.6h-7.0zM211.5 225.6l3.5 6.6h-7.0zM125.3 271.6l3.5 6.6h-7.0zM207.7 227.3l3.5 6.6h-7.0zM149.0 258.9l3.5 6.6h-7.0zM234.8 207.9l3.5 6.6h-7.0zM131.3 265.8l3.5 6.6h-7.0zM121.9 272.5l3.5 6.6h-7.0zM192.5 236.2l3.5 6.6h-7.0zM208.0 228.4l3.5 6.6h-7.0zM148.2 260.2l3.5 6.6h-7.0zM164.8 250.9l3.5 6.6h-7.0zM190.5 240.5l3.5 6.6h-7.0zM140.8 257.1l3.5 6.6h-7.0zM153.6 257.3l3.5 6.6h-7.0zM177.4 245.7l3.5 6.6h-7.0zM141.9 258.4l3.5 6.6h-7.0zM120.3 269.8l3.5 6.6h-7.0zM237.1 218.2l3.5 6.6h-7.0zM117.1 271.9l3.5 6.6h-7.0zM277.5 189.3l3.5 6.6h-7.0zM220.9 225.0l3.5 6.6h-7.0zM161.4 251.8l3.5 6.6h-7.0zM224.3 223.2l3.5 6.6h-7.0zM109.0 276.4l3.5 6.6h-7.0zM176.9 245.6l3.5 6.6h-7.0zM148.7 260.3l3.5 6.6h-7.0zM141.6 262.8l3.5 6.6h-7.0zM232.9 206.7l3.5 6.6h-7.0zM105.4 280.7l3.5 6.6h-7.0zM224.6 222.1l3.5 6.6h-7.0zM111.0 275.3l3.5 6.6h-7.0zM192.8 239.6l3.5 6.6h-7.0zM139.5 259.0l3.5 6.6h-7.0zM172.1 250.2l3.5 6.6h-7.0zM242.7 209.2l3.5 6.6h-7.0zM212.1 231.0l3.5 6.6h-7.0zM113.9 275.7l3.5 6.6h-7.0zM142.2 258.7l3.5 6.6h-7.0zM166.9 250.2l3.5 6.6h-7.0zM198.8 235.1l3.5 6.6h-7.0zM100.2 283.1l3.5 6.6h-7.0zM225.1 224.1l3.5 6.6h-7.0zM220.3 220.2l3.5 6.6h-7.0zM255.2 208.8l3.5 6.6h-7.0zM128.1 269.8l3.5 6.6h-7.0zM129.6 267.5l3.5 6.6h-7.0zM218.5 221.0l3.5 6.6h-7.0zM170.5 245.5l3.5 6.6h-7.0zM134.0 267.0l3.5 6.6h-7.0zM102.3 282.3l3.5 6.6h-7.0zM130.0 266.0l3.5 6.6h-7.0zM192.5 233.4l3.5 6.6h-7.0zM201.3 235.4l3.5 6.6h-7.0zM148.8 254.8l3.5 6.6h-7.0zM240.1 214.9l3.5 6.6h-7.0zM169.8 246.3l3.5 6.6h-7.0zM170.9 243.1l3.5 6.6h-7.0zM154.3 256.4l3.5 6.6h-7.0zM155.5 255.0l3.5 6.6h-7.0zM149.5 260.4l3.5 6.6h-7.0zM217.0 230.2l3.5 6.6h-7.0zM160.5 252.6l3.5 6.6h-7.0zM132.1 268.2l3.5 6.6h-7.0zM159.8 254.9l3.5 6.6h-7.0zM242.8 209.8l3.5 6.6h-7.0zM187.3 237.4l3.5 6.6h-7.0zM114.7 277.2l3.5 6.6h-7.0zM157.6 253.5l3.5 6.6h-7.0zM164.0 251.3l3.5 6.6h-7.0zM101.8 281.1l3.5 6.6h-7.0zM257.8 204.5l3.5 6.6h-7.0zM239.6 211.1l3.5 6.6h-7.0zM114.2 276.5l3.5 6.6h-7.0zM175.5 247.7l3.5 6.6h-7.0zM143.2 260.6l3.5 6.6h-7.0zM129.4 265.0l3.5 6.6h-7.0zM137.9 264.2l3.5 6.6h-7.0zM107.5 275.8l3.5 6.6h-7.0zM194.4 234.6l3.5 6.6h-7.0zM150.5 259.6l3.5 6.6h-7.0zM196.2 239.5l3.5 6.6h-7.0zM215.2 227.3l3.5 6.6h-7.0zM178.2 241.4l3.5 6.6h-7.0zM147.4 260.6l3.5 6.6h-7.0zM119.5 268.1l3.5 6.6h-7.0zM189.1 237.1l3.5 6.6h-7.0zM192.4 240.0l3.5 6.6h-7.0zM209.3 230.8l3.5 6.6h-7.0zM119.2 270.2l3.5 6.6h-7.0zM106.5 276.0l3.5 6.6h-7.0zM228.7 222.0l3.5 6.6h-7.0zM182.8 242.1l3.5 6.6h-7.0zM113.2 274.9l3.5 6.6h-7.0zM197.6 235.8l3.5 6.6h-7.0zM107.9 277.5l3.5 6.6h-7.0zM186.3 234.7l3.5 6.6h-7.0zM175.9 246.9l3.5 6.6h-7.0zM198.5 232.5l3.5 6.6h-7.0zM113.1 274.0l3.5 6.6h-7.0zM237.1 208.5l3.5 6.6h-7.0zM248.4 211.1l3.5 6.6h-7.0zM274.5 189.4l3.5 6.6h-7.0zM206.7 231.8l3.5 6.6h-7.0zM143.0 260.9l3.5 6.6h-7.0zM268.5 205.3l3.5 6.6h-7.0zM183.8 240.6l3.5 6.6h-7.0zM199.0 232.2l3.5 6.6h-7.0zM190.5 232.5l3.5 6.6h-7.0zM128.7 266.0l3.5 6.6h-7.0zM222.7 224.4l3.5 6.6h-7.0zM188.4 243.2l3.5 6.6h-7.0zM130.6 264.7l3.5 6.6h-7.0zM152.1 254.5l3.5 6.6h-7.0zM120.0 273.3l3.5 6.6h-7.0zM159.5 254.3l3.5 6.6h-7.0zM281.3 186.6l3.5 6.6h-7.0zM152.8 257.0l3.5 6.6h-7.0zM154.4 251.8l3.5 6.6h-7.0zM213.0 226.4l3.5 6.6h-7.0zM111.6 278.0l3.5 6.6h-7.0zM116.7 276.3l3.5 6.6h-7.0zM203.4 231.7l3.5 6.6h-7.0zM118.2 273.2l3.5 6.6h-7.0zM183.4 242.7l3.5 6.6h-7.0zM215.5 228.5l3.5 6.6h-7.0zM177.0 245.9l3.5 6.6h-7.0zM111.2 275.5l3.5 6.6h-7.0zM128.7 269.1l3.5 6.6h-7.0zM173.9 248.0l3.5 6.6h-7.0zM254.3 202.2l3.5 6.6h-7.0zM189.4 235.0l3.5 6.6h-7.0zM195.7 236.8l3.5 6.6h-7.0zM181.3 243.6l3.5 6.6h-7.0zM145.0 262.0l3.5 6.6h-7.0zM182.9 242.4l3.5 6.6h-7.0zM101.0 280.8l3.5 6.6h-7.0zM157.0 253.7l3.5 6.6h-7.0zM214.6 222.8l3.5 6.6h-7.0zM128.4 266.6l3.5 6.6h-7.0zM188.6 237.7l3.5 6.6h-7.0zM199.3 232.6l3.5 6.6h-7.0zM121.8 273.3l3.5 6.6h-7.0zM223.7 216.9l3.5 6.6h-7.0zM133.8 266.0l3.5 6.6h-7.0zM258.4 200.7l3.5 6.6h-7.0zM147.5 261.4l3.5 6.6h-7.0zM183.5 242.4l3.5 6.6h-7.0zM251.8 205.9l3.5 6.6h-7.0zM216.1 227.7l3.5 6.6h-7.0zM166.6 250.3l3.5 6.6h-7.0zM127.0 268.3l3.5 6.6h-7.0zM183.9 244.1l3.5 6.6h-7.0zM180.3 244.6l3.5 6.6h-7.0zM109.0 280.1l3.5 6.6h-7.0zM152.7 258.5l3.5 6.6h-7.0zM241.1 216.1l3.5 6.6h-7.0zM172.0 247.8l3.5 6.6h-7.0zM125.2 267.9l3.5 6.6h-7.0zM188.0 240.9l3.5 6.6h-7.0zM162.3 252.4l3.5 6.6h-7.0zM238.8 216.9l3.5 6.6h-7.0zM167.2 249.9l3.5 6.6h-7.0zM103.7 279.4l3.5 6.6h-7.0zM122.5 269.4l3.5 6.6h-7.0zM124.4 271.6l3.5 6.6h-7.0zM252.9 212.6l3.5 6.6h-7.0zM149.5 257.7l3.5 6.6h-7.0zM148.1 259.8l3.5 6.6h-7.0zM266.6 207.4l3.5 6.6h-7.0zM128.6 266.7l3.5 6.6h-7.0zM184.9 240.2l3.5 6.6h-7.0zM251.4 201.1l3.5 6.6h-7.0zM237.5 218.9l3.5 6.6h-7.0zM122.3 272.1l3.5 6.6h-7.0zM164.6 249.9l3.5 6.6h-7.0zM134.9 261.6l3.5 6.6h-7.0zM196.2 235.2l3.5 6.6h-7.0zM134.1 267.3l3.5 6.6h-7.0zM124.6 270.0l3.5 6.6h-7.0zM137.6 263.3l3.5 6.6h-7.0zM118.2 274.5l3.5 6.6h-7.0zM198.7 230.6l3.5 6.6h-7.0zM138.7 263.9l3.5 6.6h-7.0zM155.0 256.7l3.5 6.6h-7.0zM138.1 262.2l3.5 6.6h-7.0zM152.4 255.0l3.5 6.6h-7.0zM142.2 262.4l3.5 6.6h-7.0zM148.7 258.6l3.5 6.6h-7.0zM197.6 234.4l3.5 6.6h-7.0zM124.2 271.1l3.5 6.6h-7.0zM194.2 237.2l3.5 6.6h-7.0zM147.9 256.9l3.5 6.6h-7.0zM113.1 274.8l3.5 6.6h-7.0zM116.7 275.0l3.5 6.6h-7.0zM234.6 220.0l3.5 6.6h-7.0zM105.9 281.2l3.5 6.6h-7.0zM138.2 261.9l3.5 6.6h-7.0zM225.0 224.2l3.5 6.6h-7.0zM111.1 278.0l3.5 6.6h-7.0zM129.3 268.3l3.5 6.6h-7.0zM137.2 265.1l3.5 6.6h-7.0zM219.1 226.4l3.5 6.6h-7.0zM116.1 276.7l3.5 6.6h-7.0zM250.5 202.2l3.5 6.6h-7.0zM116.7 275.2l3.5 6.6h-7.0zM177.3 244.6l3.5 6.6h-7.0zM207.9 229.4l3.5 6.6h-7.0zM176.4 247.2l3.5 6.6h-7.0zM169.5 250.0l3.5 6.6h-7.0zM160.1 250.6l3.5 6.6h-7.0zM135.0 264.9l3.5 6.6h-7.0zM286.4 193.2l3.5 6.6h-7.0zM155.6 251.8l3.5 6.6h-7.0zM187.4 241.4l3.5 6.6h-7.0zM179.5 243.7l3.5 6.6h-7.0zM258.0 206.3l3.5 6.6h-7.0zM133.8 266.6l3.5 6.6h-7.0zM121.6 274.2l3.5 6.6h-7.0zM234.2 217.4l3.5 6.6h-7.0zM169.7 247.7l3.5 6.6h-7.0zM187.6 242.7l3.5 6.6h-7.0zM185.3 239.6l3.5 6.6h-7.0zM209.4 227.5l3.5 6.6h-7.0zM219.5 218.8l3.5 6.6h-7.0zM196.4 237.4l3.5 6.6h-7.0zM100.1 282.9l3.5 6.6h-7.0zM219.4 225.5l3.5 6.6h-7.0zM106.0 279.9l3.5 6.6h-7.0zM223.7 221.8l3.5 6.6h-7.0zM99.2 281.5l3.5 6.6h-7.0zM208.1 227.3l3.5 6.6h-7.0zM187.2 240.9l3.5 6.6h-7.0zM103.7 281.0l3.5 6.6h-7.0zM204.7 234.5l3.5 6.6h-7.0zM179.2 241.9l3.5 6.6h-7.0zM116.9 273.4l3.5 6.6h-7.0zM228.1 215.5l3.5 6.6h-7.0zM180.7 245.4l3.5 6.6h-7.0zM163.5 248.4l3.5 6.6h-7.0zM250.4 212.0l3.5 6.6h-7.0zM128.2 270.6l3.5 6.6h-7.0zM124.5 270.4l3.5 6.6h-7.0zM232.2 220.1l3.5 6.6h-7.0zM122.3 267.0l3.5 6.6h-7.0zM215.7 224.8l3.5 6.6h-7.0zM129.1 264.6l3.5 6.6h-7.0zM215.0 227.0l3.5 6.6h-7.0zM156.1 255.3l3.5 6.6h-7.0zM184.3 239.3l3.5 6.6h-7.0zM182.9 243.7l3.5 6.6h-7.0zM154.3 256.7l3.5 6.6h-7.0zM171.0 246.6l3.5 6.6h-7.0zM188.8 237.9l3.5 6.6h-7.0zM119.0 270.1l3.5 6.6h-7.0zM239.5 213.7l3.5 6.6h-7.0zM216.7 230.0l3.5 6.6h-7.0zM128.9 266.9l3.5 6.6h-7.0zM131.2 268.0l3.5 6.6h-7.0zM154.3 254.8l3.5 6.6h-7.0zM207.6 231.7l3.5 6.6h-7.0zM170.8 248.8l3.5 6.6h-7.0zM143.5 260.9l3.5 6.6h-7.0zM207.1 224.3l3.5 6.6h-7.0zM127.2 268.2l3.5 6.6h-7.0zM197.5 237.1l3.5 6.6h-7.0zM316.4 167.9l3.5 6.6h-7.0zM322.8 165.9l3.5 6.6h-7.0zM293.7 178.7l3.5 6.6h-7.0zM302.4 181.1l3.5 6.6h-7.0zM299.0 189.7l3.5 6.6h-7.0zM306.0 197.9l3.5 6.6h-7.0zM276.0 183.9l3.5 6.6h-7.0zM270.0 186.8l3.5 6.6h-7.0zM264.6 189.1l3.5 6.6h-7.0zM226.0 192.6l3.5 6.6h-7.0zM255.0 194.1l3.5 6.6h-7.0zM284.4 195.1l3.5 6.6h-7.0zM278.5 202.8l3.5 6.6h-7.0zM262.5 201.1l3.5 6.6h-7.0zM236.4 205.7l3.5 6.6h-7.0zM217.5 208.6l3.5 6.6h-7.0zM266.0 217.1l3.5 6.6h-7.0zM245.0 214.1l3.5 6.6h-7.0zM254.0 208.6l3.5 6.6h-7.0zM94.3 280.9l3.5 6.6h-7.0zM116.0 281.6l3.5 6.6h-7.0zM158.0 260.1l3.5 6.6h-7.0zM123.7 260.3l3.5 6.6h-7.0zM142.7 240.4l3.5 6.6h-7.0zM134.0 255.6l3.5 6.6h-7.0zM137.0 256.5l3.5 6.6h-7.0zM187.0 227.1l3.5 6.6h-7.0zM204.0 217.5l3.5 6.6h-7.0zM211.0 217.5l3.5 6.6h-7.0zM246.0 194.7l3.5 6.6h-7.0zM251.7 192.8l3.5 6.6h-7.0zM257.5 193.7l3.5 6.6h-7.0zM218.5 234.6l3.5 6.6h-7.0zM234.6 227.1l3.5 6.6h-7.0zM256.5 217.5l3.5 6.6h-7.0zM264.0 224.1l3.5 6.6h-7.0zM295.5 191.9l3.5 6.6h-7.0zM307.0 186.1l3.5 6.6h-7.0z" fill="none" stroke="#e8212b" stroke-width="1.5"/>
</g>
<g id="fits" fill="none"><line x1="393.8" y1="52.58" x2="69.3" y2="286.65" stroke="#2a7ab9" stroke-width="1.8" stroke-dasharray="7.5 3.8" stroke-dashoffset="0"/><line x1="447.6" y1="131.84" x2="84.6" y2="294.05" stroke="#82c4dc" stroke-width="1.4" stroke-dasharray="3.1 1.9" stroke-dashoffset="0"/><line x1="342.6" y1="72.74" x2="69.3" y2="286.11" stroke="#f9ab8b" stroke-width="1.5" stroke-dasharray="1.6 4.2 5.8 4.4" stroke-dashoffset="0"/><line x1="407.7" y1="134.32" x2="81.5" y2="292.99" stroke="#e8212b" stroke-width="1.8" stroke-dasharray="28 4.8" stroke-dashoffset="17.8"/></g>
<g id="arrows"><line x1="379.4" y1="64.0" x2="373.0" y2="44.4" stroke="#2a7ab9" stroke-width="1.6"/><path d="M371.4 39.6L375.7 44.5L370.8 46.1z" fill="#2a7ab9"/><line x1="294.2" y1="110.0" x2="274.7" y2="75.8" stroke="#f9ab8b" stroke-width="1.4"/><path d="M272.2 71.5L277.4 75.4L272.9 78.0z" fill="#f9ab8b"/><line x1="402.2" y1="137.7" x2="423.5" y2="153.0" stroke="#e8212b" stroke-width="1.6"/><path d="M427.6 155.9L421.2 154.5L424.2 150.3z" fill="#e8212b"/><line x1="358.3" y1="170.8" x2="365.8" y2="197.2" stroke="#82c4dc" stroke-width="1.3"/><path d="M367.0 201.5L363.3 196.8L367.7 195.6z" fill="#82c4dc"/></g>
<g id="legend-markers"><path d="M436.5 24.9l3.3 3.3l-3.3 3.3l-3.3 -3.3z" fill="none" stroke="#2a7ab9" stroke-width="1.6"/><rect x="433.5" y="46.8" width="6" height="6" fill="none" stroke="#82c4dc" stroke-width="1.2"/><circle cx="436.5" cy="71.4" r="3.0" fill="none" stroke="#f9ab8b" stroke-width="1.2"/><path d="M436.5 90.39999999999999l3.1 6.3h-6.2z" fill="none" stroke="#e8212b" stroke-width="1.5"/></g>
<g id="labels">
<text x="50.5" y="299.4" font-size="15" text-anchor="end" >0</text>
<text x="50.5" y="243.5" font-size="15" text-anchor="end" >50</text>
<text x="50.5" y="187.5" font-size="15" text-anchor="end" >100</text>
<text x="50.5" y="131.6" font-size="15" text-anchor="end" >150</text>
<text x="50.5" y="75.6" font-size="15" text-anchor="end" >200</text>
<text x="50.5" y="19.7" font-size="15" text-anchor="end" >250</text>
<text x="67.5" y="321.1" font-size="15" text-anchor="middle" >0.0</text>
<text x="178.0" y="321.1" font-size="15" text-anchor="middle" >0.1</text>
<text x="288.4" y="321.1" font-size="15" text-anchor="middle" >0.1</text>
<text x="398.9" y="321.1" font-size="15" text-anchor="middle" >0.2</text>
<text x="509.4" y="321.1" font-size="15" text-anchor="middle" >0.2</text>
<text x="287.0" y="22.8" class="eq" font-size="15.5" textLength="110.5" lengthAdjust="spacingAndGlyphs"><tspan font-style="italic">y</tspan> = 1424.5<tspan font-style="italic">x</tspan> + 6.75</text>
<text x="314.3" y="42.5" class="eq" font-size="15.5" textLength="55.5" lengthAdjust="spacingAndGlyphs"><tspan font-style="italic">R</tspan>² = 0.89</text>
<text x="185.8" y="63.4" class="eq" font-size="15.5" textLength="110.5" lengthAdjust="spacingAndGlyphs"><tspan font-style="italic">y</tspan> = 1541.8<tspan font-style="italic">x</tspan> + 7.23</text>
<text x="213.2" y="83.2" class="eq" font-size="15.5" textLength="55.5" lengthAdjust="spacingAndGlyphs"><tspan font-style="italic">R</tspan>² = 0.89</text>
<text x="428.3" y="161.4" class="eq" font-size="15.5" textLength="104.8" lengthAdjust="spacingAndGlyphs"><tspan font-style="italic">y</tspan> = 960.6<tspan font-style="italic">x</tspan> − 4.22</text>
<text x="453.5" y="181" class="eq" font-size="15.5" textLength="55.5" lengthAdjust="spacingAndGlyphs"><tspan font-style="italic">R</tspan>² = 0.95</text>
<text x="327.4" y="228.0" class="eq" font-size="15.5" textLength="104.8" lengthAdjust="spacingAndGlyphs"><tspan font-style="italic">y</tspan> = 882.5<tspan font-style="italic">x</tspan> − 5.98</text>
<text x="352.6" y="248.2" class="eq" font-size="15.5" textLength="55.5" lengthAdjust="spacingAndGlyphs"><tspan font-style="italic">R</tspan>² = 0.88</text>
<text x="450.3" y="32.2" font-size="18" textLength="95.7" lengthAdjust="spacingAndGlyphs">Q<tspan font-size="11.5" dy="4">1</tspan><tspan dy="-4">-limestone</tspan></text>
<text x="450.3" y="54.4" font-size="18" textLength="50" lengthAdjust="spacingAndGlyphs">Q<tspan font-size="11.5" dy="4">2</tspan><tspan dy="-4">-tuff</tspan></text>
<text x="450.3" y="76.3" font-size="18" textLength="77" lengthAdjust="spacingAndGlyphs">Q<tspan font-size="11.5" dy="4">3</tspan><tspan dy="-4">-granite</tspan></text>
<text x="450.3" y="98.5" font-size="18" textLength="95.7" lengthAdjust="spacingAndGlyphs">Q<tspan font-size="11.5" dy="4">4</tspan><tspan dy="-4">-limestone</tspan></text>
<text transform="translate(20.8,262.3) rotate(-90)" font-size="15.2" textLength="122.3" lengthAdjust="spacingAndGlyphs">Predicted value of</text>
<text transform="translate(20.8,133.6) rotate(-90)" font-size="15.2" textLength="23.4" lengthAdjust="spacingAndGlyphs">SSA</text>
<text transform="translate(20.8,105.4) rotate(-90)" font-size="15.2" textLength="50.4" lengthAdjust="spacingAndGlyphs">(mm²/g)</text>
<text x="264.2" y="342.2" class="sup" font-size="17" font-style="italic">I</text>
<text x="272.4" y="335.4" class="sup" font-size="8.6" fill="#4a4a4a"><tspan font-style="italic">D</tspan></text>
<text x="280.4" y="337" class="sup" font-size="5.2" fill="#4a4a4a">F</text>
<text x="287.4" y="335.2" class="sup" font-size="8.6" fill="#4a4a4a">—</text>
<text x="300" y="335.4" class="sup" font-size="8.6" fill="#4a4a4a">3</text>
</g>
</svg>
</body></html>
